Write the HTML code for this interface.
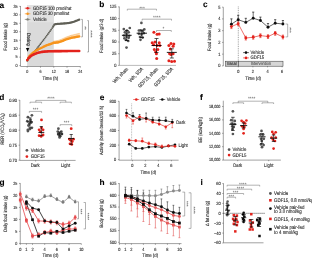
<!DOCTYPE html>
<html><head><meta charset="utf-8"><style>
html,body{margin:0;padding:0;background:#fff;width:312px;height:258px;overflow:hidden}
svg{display:block}
text{font-family:"Liberation Sans", sans-serif;text-rendering:geometricPrecision}
</style></head><body>
<svg xmlns="http://www.w3.org/2000/svg" width="312" height="258" viewBox="0 0 312 258">
<defs><filter id="bl" x="0" y="0" width="312" height="258" filterUnits="userSpaceOnUse"><feGaussianBlur stdDeviation="0.4"/></filter></defs>
<g filter="url(#bl)">
<rect width="312" height="258" fill="#fff"/>
<text font-size="8.3" text-anchor="start" font-weight="bold" fill="#000" stroke="#000" stroke-width="0.1" transform="translate(-0.60 7.60)">a</text>
<rect x="27.1" y="5.0" width="26.699999999999996" height="61.3" fill="#dadada" stroke="none" stroke-width="0.5"/>
<rect x="27.1" y="5.0" width="26.699999999999996" height="17.3" fill="#e2e2e2" stroke="none" stroke-width="0.5"/>
<line x1="20.5" y1="6.0" x2="20.5" y2="66.3" stroke="#444" stroke-width="0.5"/>
<line x1="19.3" y1="65.6" x2="20.5" y2="65.6" stroke="#444" stroke-width="0.5"/>
<text font-size="3.7" text-anchor="end" font-weight="normal" fill="#2a2a2a" stroke="#2a2a2a" stroke-width="0.1" transform="translate(17.60 66.93) scale(1 1.2)">0</text>
<line x1="19.3" y1="57.13999999999999" x2="20.5" y2="57.13999999999999" stroke="#444" stroke-width="0.5"/>
<text font-size="3.7" text-anchor="end" font-weight="normal" fill="#2a2a2a" stroke="#2a2a2a" stroke-width="0.1" transform="translate(17.60 58.47) scale(1 1.2)">5</text>
<line x1="19.3" y1="48.67999999999999" x2="20.5" y2="48.67999999999999" stroke="#444" stroke-width="0.5"/>
<text font-size="3.7" text-anchor="end" font-weight="normal" fill="#2a2a2a" stroke="#2a2a2a" stroke-width="0.1" transform="translate(17.60 50.01) scale(1 1.2)">10</text>
<line x1="19.3" y1="40.21999999999999" x2="20.5" y2="40.21999999999999" stroke="#444" stroke-width="0.5"/>
<text font-size="3.7" text-anchor="end" font-weight="normal" fill="#2a2a2a" stroke="#2a2a2a" stroke-width="0.1" transform="translate(17.60 41.55) scale(1 1.2)">15</text>
<line x1="19.3" y1="31.75999999999999" x2="20.5" y2="31.75999999999999" stroke="#444" stroke-width="0.5"/>
<text font-size="3.7" text-anchor="end" font-weight="normal" fill="#2a2a2a" stroke="#2a2a2a" stroke-width="0.1" transform="translate(17.60 33.09) scale(1 1.2)">20</text>
<line x1="19.3" y1="23.29999999999999" x2="20.5" y2="23.29999999999999" stroke="#444" stroke-width="0.5"/>
<text font-size="3.7" text-anchor="end" font-weight="normal" fill="#2a2a2a" stroke="#2a2a2a" stroke-width="0.1" transform="translate(17.60 24.63) scale(1 1.2)">25</text>
<line x1="19.3" y1="14.83999999999999" x2="20.5" y2="14.83999999999999" stroke="#444" stroke-width="0.5"/>
<text font-size="3.7" text-anchor="end" font-weight="normal" fill="#2a2a2a" stroke="#2a2a2a" stroke-width="0.1" transform="translate(17.60 16.17) scale(1 1.2)">30</text>
<line x1="19.3" y1="6.379999999999988" x2="20.5" y2="6.379999999999988" stroke="#444" stroke-width="0.5"/>
<text font-size="3.7" text-anchor="end" font-weight="normal" fill="#2a2a2a" stroke="#2a2a2a" stroke-width="0.1" transform="translate(17.60 7.71) scale(1 1.2)">35</text>
<line x1="20.5" y1="66.5" x2="80.5" y2="66.5" stroke="#444" stroke-width="0.5"/>
<line x1="27.2" y1="66.5" x2="27.2" y2="67.7" stroke="#444" stroke-width="0.5"/>
<text font-size="3.7" text-anchor="middle" font-weight="normal" fill="#2a2a2a" stroke="#2a2a2a" stroke-width="0.1" transform="translate(27.20 73.00) scale(1 1.2)">0</text>
<line x1="40.474999999999994" y1="66.5" x2="40.474999999999994" y2="67.7" stroke="#444" stroke-width="0.5"/>
<text font-size="3.7" text-anchor="middle" font-weight="normal" fill="#2a2a2a" stroke="#2a2a2a" stroke-width="0.1" transform="translate(40.47 73.00) scale(1 1.2)">6</text>
<line x1="53.75" y1="66.5" x2="53.75" y2="67.7" stroke="#444" stroke-width="0.5"/>
<text font-size="3.7" text-anchor="middle" font-weight="normal" fill="#2a2a2a" stroke="#2a2a2a" stroke-width="0.1" transform="translate(53.75 73.00) scale(1 1.2)">12</text>
<line x1="67.02499999999999" y1="66.5" x2="67.02499999999999" y2="67.7" stroke="#444" stroke-width="0.5"/>
<text font-size="3.7" text-anchor="middle" font-weight="normal" fill="#2a2a2a" stroke="#2a2a2a" stroke-width="0.1" transform="translate(67.02 73.00) scale(1 1.2)">18</text>
<line x1="80.3" y1="66.5" x2="80.3" y2="67.7" stroke="#444" stroke-width="0.5"/>
<text font-size="3.7" text-anchor="middle" font-weight="normal" fill="#2a2a2a" stroke="#2a2a2a" stroke-width="0.1" transform="translate(80.30 73.00) scale(1 1.2)">24</text>
<text font-size="4.05" text-anchor="middle" font-weight="normal" fill="#2a2a2a" stroke="#2a2a2a" stroke-width="0.1" transform="translate(7.25 36.80) rotate(-90) scale(1 1.2)">Food intake (g)</text>
<text font-size="4.3" text-anchor="middle" font-weight="normal" fill="#2a2a2a" stroke="#2a2a2a" stroke-width="0.1" transform="translate(50.35 79.50) scale(1 1.2)">Time (h)</text>
<text font-size="4.15" text-anchor="start" font-weight="normal" fill="#2a2a2a" stroke="#2a2a2a" stroke-width="0.1" transform="translate(26.70 33.00) rotate(90) scale(1 1.2)">Dosing</text>
<polygon points="25.9,48.0 29.3,48.0 27.6,51.7" fill="#000"/>
<line x1="53.25" y1="41.41292735042735" x2="53.25" y2="43.02638888888889" stroke="#f7941d" stroke-width="0.4"/>
<line x1="52.8" y1="41.41292735042735" x2="53.7" y2="41.41292735042735" stroke="#f7941d" stroke-width="0.45"/>
<line x1="54.331250000000004" y1="41.145220716783214" x2="54.331250000000004" y2="42.816903409090905" stroke="#f7941d" stroke-width="0.4"/>
<line x1="53.88125" y1="41.145220716783214" x2="54.78125000000001" y2="41.145220716783214" stroke="#f7941d" stroke-width="0.45"/>
<line x1="55.4125" y1="40.964130244755246" x2="55.4125" y2="42.69403409090909" stroke="#f7941d" stroke-width="0.4"/>
<line x1="54.9625" y1="40.964130244755246" x2="55.862500000000004" y2="40.964130244755246" stroke="#f7941d" stroke-width="0.45"/>
<line x1="56.493750000000006" y1="40.78303977272727" x2="56.493750000000006" y2="42.57116477272727" stroke="#f7941d" stroke-width="0.4"/>
<line x1="56.04375" y1="40.78303977272727" x2="56.94375000000001" y2="40.78303977272727" stroke="#f7941d" stroke-width="0.45"/>
<line x1="57.575" y1="40.601949300699296" x2="57.575" y2="42.44829545454545" stroke="#f7941d" stroke-width="0.4"/>
<line x1="57.125" y1="40.601949300699296" x2="58.025000000000006" y2="40.601949300699296" stroke="#f7941d" stroke-width="0.45"/>
<line x1="58.65625" y1="40.29491185897435" x2="58.65625" y2="42.19947916666666" stroke="#f7941d" stroke-width="0.4"/>
<line x1="58.20625" y1="40.29491185897435" x2="59.10625" y2="40.29491185897435" stroke="#f7941d" stroke-width="0.45"/>
<line x1="59.73750000000001" y1="39.90630876068376" x2="59.73750000000001" y2="41.869097222222216" stroke="#f7941d" stroke-width="0.4"/>
<line x1="59.28750000000001" y1="39.90630876068376" x2="60.187500000000014" y2="39.90630876068376" stroke="#f7941d" stroke-width="0.45"/>
<line x1="60.81875000000001" y1="39.51770566239316" x2="60.81875000000001" y2="41.538715277777776" stroke="#f7941d" stroke-width="0.4"/>
<line x1="60.368750000000006" y1="39.51770566239316" x2="61.26875000000001" y2="39.51770566239316" stroke="#f7941d" stroke-width="0.45"/>
<line x1="61.900000000000006" y1="39.09576923076923" x2="61.900000000000006" y2="41.175" stroke="#f7941d" stroke-width="0.4"/>
<line x1="61.45" y1="39.09576923076923" x2="62.35000000000001" y2="39.09576923076923" stroke="#f7941d" stroke-width="0.45"/>
<line x1="62.98125" y1="38.58702724358974" x2="62.98125" y2="40.72447916666666" stroke="#f7941d" stroke-width="0.4"/>
<line x1="62.53125" y1="38.58702724358974" x2="63.431250000000006" y2="38.58702724358974" stroke="#f7941d" stroke-width="0.45"/>
<line x1="64.0625" y1="38.078285256410254" x2="64.0625" y2="40.27395833333333" stroke="#f7941d" stroke-width="0.4"/>
<line x1="63.6125" y1="38.078285256410254" x2="64.5125" y2="38.078285256410254" stroke="#f7941d" stroke-width="0.45"/>
<line x1="65.14375000000001" y1="37.56954326923076" x2="65.14375000000001" y2="39.8234375" stroke="#f7941d" stroke-width="0.4"/>
<line x1="64.69375000000001" y1="37.56954326923076" x2="65.59375000000001" y2="37.56954326923076" stroke="#f7941d" stroke-width="0.45"/>
<line x1="66.22500000000001" y1="37.06080128205127" x2="66.22500000000001" y2="39.37291666666666" stroke="#f7941d" stroke-width="0.4"/>
<line x1="65.775" y1="37.06080128205127" x2="66.67500000000001" y2="37.06080128205127" stroke="#f7941d" stroke-width="0.45"/>
<line x1="67.30625" y1="36.665340544871796" x2="67.30625" y2="39.03567708333333" stroke="#f7941d" stroke-width="0.4"/>
<line x1="66.85625" y1="36.665340544871796" x2="67.75625000000001" y2="36.665340544871796" stroke="#f7941d" stroke-width="0.45"/>
<line x1="68.3875" y1="36.29175480769231" x2="68.3875" y2="38.7203125" stroke="#f7941d" stroke-width="0.4"/>
<line x1="67.9375" y1="36.29175480769231" x2="68.8375" y2="36.29175480769231" stroke="#f7941d" stroke-width="0.45"/>
<line x1="69.46875" y1="35.91816907051282" x2="69.46875" y2="38.404947916666664" stroke="#f7941d" stroke-width="0.4"/>
<line x1="69.01875" y1="35.91816907051282" x2="69.91875" y2="35.91816907051282" stroke="#f7941d" stroke-width="0.45"/>
<line x1="70.55" y1="35.544583333333335" x2="70.55" y2="38.08958333333334" stroke="#f7941d" stroke-width="0.4"/>
<line x1="70.1" y1="35.544583333333335" x2="71.0" y2="35.544583333333335" stroke="#f7941d" stroke-width="0.45"/>
<line x1="71.63125000000001" y1="35.217338056680155" x2="71.63125000000001" y2="37.82055921052631" stroke="#f7941d" stroke-width="0.4"/>
<line x1="71.18125" y1="35.217338056680155" x2="72.08125000000001" y2="35.217338056680155" stroke="#f7941d" stroke-width="0.45"/>
<line x1="72.7125" y1="34.95993927125507" x2="72.7125" y2="37.62138157894737" stroke="#f7941d" stroke-width="0.4"/>
<line x1="72.2625" y1="34.95993927125507" x2="73.16250000000001" y2="34.95993927125507" stroke="#f7941d" stroke-width="0.45"/>
<line x1="73.79375" y1="34.702540485829964" x2="73.79375" y2="37.42220394736842" stroke="#f7941d" stroke-width="0.4"/>
<line x1="73.34375" y1="34.702540485829964" x2="74.24375" y2="34.702540485829964" stroke="#f7941d" stroke-width="0.45"/>
<line x1="74.87500000000001" y1="34.44514170040486" x2="74.87500000000001" y2="37.223026315789475" stroke="#f7941d" stroke-width="0.4"/>
<line x1="74.42500000000001" y1="34.44514170040486" x2="75.32500000000002" y2="34.44514170040486" stroke="#f7941d" stroke-width="0.45"/>
<line x1="75.95625000000001" y1="34.181751373626376" x2="75.95625000000001" y2="37.017857142857146" stroke="#f7941d" stroke-width="0.4"/>
<line x1="75.50625000000001" y1="34.181751373626376" x2="76.40625000000001" y2="34.181751373626376" stroke="#f7941d" stroke-width="0.45"/>
<line x1="77.03750000000001" y1="33.91757783882784" x2="77.03750000000001" y2="36.81190476190476" stroke="#f7941d" stroke-width="0.4"/>
<line x1="76.5875" y1="33.91757783882784" x2="77.48750000000001" y2="33.91757783882784" stroke="#f7941d" stroke-width="0.45"/>
<line x1="78.11875" y1="33.6534043040293" x2="78.11875" y2="36.60595238095238" stroke="#f7941d" stroke-width="0.4"/>
<line x1="77.66875" y1="33.6534043040293" x2="78.56875000000001" y2="33.6534043040293" stroke="#f7941d" stroke-width="0.45"/>
<line x1="79.2" y1="33.389230769230764" x2="79.2" y2="36.4" stroke="#f7941d" stroke-width="0.4"/>
<line x1="78.75" y1="33.389230769230764" x2="79.65" y2="33.389230769230764" stroke="#f7941d" stroke-width="0.45"/>
<polyline points="27.30,61.00 30.00,57.50 35.00,51.00 40.00,44.50 45.00,38.00 50.00,31.20 53.20,26.60 54.60,24.30 58.00,23.90 64.00,23.50 68.30,23.10 71.00,22.60 74.10,21.70 79.20,19.70" fill="none" stroke="#5f5f56" stroke-width="0.35" stroke-linejoin="round"/>
<circle cx="27.30" cy="61.00" r="0.85" fill="#5f5f56"/>
<circle cx="28.38" cy="59.60" r="0.85" fill="#5f5f56"/>
<circle cx="29.46" cy="58.20" r="0.85" fill="#5f5f56"/>
<circle cx="30.54" cy="56.79" r="0.85" fill="#5f5f56"/>
<circle cx="31.62" cy="55.39" r="0.85" fill="#5f5f56"/>
<circle cx="32.71" cy="53.98" r="0.85" fill="#5f5f56"/>
<circle cx="33.79" cy="52.58" r="0.85" fill="#5f5f56"/>
<circle cx="34.87" cy="51.17" r="0.85" fill="#5f5f56"/>
<circle cx="35.95" cy="49.76" r="0.85" fill="#5f5f56"/>
<circle cx="37.03" cy="48.36" r="0.85" fill="#5f5f56"/>
<circle cx="38.11" cy="46.95" r="0.85" fill="#5f5f56"/>
<circle cx="39.19" cy="45.55" r="0.85" fill="#5f5f56"/>
<circle cx="40.28" cy="44.14" r="0.85" fill="#5f5f56"/>
<circle cx="41.36" cy="42.74" r="0.85" fill="#5f5f56"/>
<circle cx="42.44" cy="41.33" r="0.85" fill="#5f5f56"/>
<circle cx="43.52" cy="39.93" r="0.85" fill="#5f5f56"/>
<circle cx="44.60" cy="38.52" r="0.85" fill="#5f5f56"/>
<circle cx="45.68" cy="37.07" r="0.85" fill="#5f5f56"/>
<circle cx="46.76" cy="35.60" r="0.85" fill="#5f5f56"/>
<circle cx="47.84" cy="34.13" r="0.85" fill="#5f5f56"/>
<circle cx="48.92" cy="32.66" r="0.85" fill="#5f5f56"/>
<circle cx="50.01" cy="31.19" r="0.85" fill="#5f5f56"/>
<circle cx="51.09" cy="29.64" r="0.85" fill="#5f5f56"/>
<circle cx="52.17" cy="28.08" r="0.85" fill="#5f5f56"/>
<circle cx="53.25" cy="26.52" r="1.15" fill="#5f5f56"/>
<circle cx="54.33" cy="24.74" r="1.15" fill="#5f5f56"/>
<circle cx="55.41" cy="24.20" r="1.15" fill="#5f5f56"/>
<circle cx="56.49" cy="24.08" r="1.15" fill="#5f5f56"/>
<circle cx="57.58" cy="23.95" r="1.15" fill="#5f5f56"/>
<circle cx="58.66" cy="23.86" r="1.15" fill="#5f5f56"/>
<circle cx="59.74" cy="23.78" r="1.15" fill="#5f5f56"/>
<circle cx="60.82" cy="23.71" r="1.15" fill="#5f5f56"/>
<circle cx="61.90" cy="23.64" r="1.15" fill="#5f5f56"/>
<circle cx="62.98" cy="23.57" r="1.15" fill="#5f5f56"/>
<circle cx="64.06" cy="23.49" r="1.15" fill="#5f5f56"/>
<circle cx="65.14" cy="23.39" r="1.15" fill="#5f5f56"/>
<circle cx="66.23" cy="23.29" r="1.15" fill="#5f5f56"/>
<circle cx="67.31" cy="23.19" r="1.15" fill="#5f5f56"/>
<circle cx="68.39" cy="23.08" r="1.15" fill="#5f5f56"/>
<circle cx="69.47" cy="22.88" r="1.15" fill="#5f5f56"/>
<circle cx="70.55" cy="22.68" r="1.15" fill="#5f5f56"/>
<circle cx="71.63" cy="22.42" r="1.15" fill="#5f5f56"/>
<circle cx="72.71" cy="22.10" r="1.15" fill="#5f5f56"/>
<circle cx="73.79" cy="21.79" r="1.15" fill="#5f5f56"/>
<circle cx="74.88" cy="21.40" r="1.15" fill="#5f5f56"/>
<circle cx="75.96" cy="20.97" r="1.15" fill="#5f5f56"/>
<circle cx="77.04" cy="20.55" r="1.15" fill="#5f5f56"/>
<circle cx="78.12" cy="20.12" r="1.15" fill="#5f5f56"/>
<circle cx="79.20" cy="19.70" r="1.15" fill="#5f5f56"/>
<polyline points="27.30,60.00 29.00,56.50 32.50,53.00 36.30,50.40 41.00,48.00 47.00,45.20 50.00,44.20 53.60,42.90 58.00,42.40 61.60,41.30 66.40,39.30 71.20,37.90 75.00,37.20 79.20,36.40" fill="none" stroke="#f7941d" stroke-width="0.5" stroke-linejoin="round"/>
<circle cx="27.30" cy="60.00" r="1.2" fill="#f7941d"/>
<circle cx="28.38" cy="57.77" r="1.2" fill="#f7941d"/>
<circle cx="29.46" cy="56.04" r="1.2" fill="#f7941d"/>
<circle cx="30.54" cy="54.96" r="1.2" fill="#f7941d"/>
<circle cx="31.62" cy="53.88" r="1.2" fill="#f7941d"/>
<circle cx="32.71" cy="52.86" r="1.2" fill="#f7941d"/>
<circle cx="33.79" cy="52.12" r="1.2" fill="#f7941d"/>
<circle cx="34.87" cy="51.38" r="1.2" fill="#f7941d"/>
<circle cx="35.95" cy="50.64" r="1.2" fill="#f7941d"/>
<circle cx="37.03" cy="50.03" r="1.2" fill="#f7941d"/>
<circle cx="38.11" cy="49.47" r="1.2" fill="#f7941d"/>
<circle cx="39.19" cy="48.92" r="1.2" fill="#f7941d"/>
<circle cx="40.28" cy="48.37" r="1.2" fill="#f7941d"/>
<circle cx="41.36" cy="47.83" r="1.2" fill="#f7941d"/>
<circle cx="42.44" cy="47.33" r="1.2" fill="#f7941d"/>
<circle cx="43.52" cy="46.82" r="1.2" fill="#f7941d"/>
<circle cx="44.60" cy="46.32" r="1.2" fill="#f7941d"/>
<circle cx="45.68" cy="45.82" r="1.2" fill="#f7941d"/>
<circle cx="46.76" cy="45.31" r="1.2" fill="#f7941d"/>
<circle cx="47.84" cy="44.92" r="1.2" fill="#f7941d"/>
<circle cx="48.92" cy="44.56" r="1.2" fill="#f7941d"/>
<circle cx="50.01" cy="44.20" r="1.2" fill="#f7941d"/>
<circle cx="51.09" cy="43.81" r="1.2" fill="#f7941d"/>
<circle cx="52.17" cy="43.42" r="1.2" fill="#f7941d"/>
<circle cx="53.25" cy="43.03" r="1.2" fill="#f7941d"/>
<circle cx="54.33" cy="42.82" r="1.2" fill="#f7941d"/>
<circle cx="55.41" cy="42.69" r="1.2" fill="#f7941d"/>
<circle cx="56.49" cy="42.57" r="1.2" fill="#f7941d"/>
<circle cx="57.58" cy="42.45" r="1.2" fill="#f7941d"/>
<circle cx="58.66" cy="42.20" r="1.2" fill="#f7941d"/>
<circle cx="59.74" cy="41.87" r="1.2" fill="#f7941d"/>
<circle cx="60.82" cy="41.54" r="1.2" fill="#f7941d"/>
<circle cx="61.90" cy="41.17" r="1.2" fill="#f7941d"/>
<circle cx="62.98" cy="40.72" r="1.2" fill="#f7941d"/>
<circle cx="64.06" cy="40.27" r="1.2" fill="#f7941d"/>
<circle cx="65.14" cy="39.82" r="1.2" fill="#f7941d"/>
<circle cx="66.23" cy="39.37" r="1.2" fill="#f7941d"/>
<circle cx="67.31" cy="39.04" r="1.2" fill="#f7941d"/>
<circle cx="68.39" cy="38.72" r="1.2" fill="#f7941d"/>
<circle cx="69.47" cy="38.40" r="1.2" fill="#f7941d"/>
<circle cx="70.55" cy="38.09" r="1.2" fill="#f7941d"/>
<circle cx="71.63" cy="37.82" r="1.2" fill="#f7941d"/>
<circle cx="72.71" cy="37.62" r="1.2" fill="#f7941d"/>
<circle cx="73.79" cy="37.42" r="1.2" fill="#f7941d"/>
<circle cx="74.88" cy="37.22" r="1.2" fill="#f7941d"/>
<circle cx="75.96" cy="37.02" r="1.2" fill="#f7941d"/>
<circle cx="77.04" cy="36.81" r="1.2" fill="#f7941d"/>
<circle cx="78.12" cy="36.61" r="1.2" fill="#f7941d"/>
<circle cx="79.20" cy="36.40" r="1.2" fill="#f7941d"/>
<polyline points="26.80,60.90 28.50,58.00 30.50,56.20 33.30,54.60 37.00,53.10 41.00,52.10 45.00,51.60 50.00,51.20 79.20,51.00" fill="none" stroke="#e3241d" stroke-width="0.9" stroke-linejoin="round"/>
<circle cx="27.30" cy="60.05" r="1.3" fill="#e3241d"/>
<circle cx="28.38" cy="58.20" r="1.3" fill="#e3241d"/>
<circle cx="29.46" cy="57.13" r="1.3" fill="#e3241d"/>
<circle cx="30.54" cy="56.18" r="1.3" fill="#e3241d"/>
<circle cx="31.62" cy="55.56" r="1.3" fill="#e3241d"/>
<circle cx="32.71" cy="54.94" r="1.3" fill="#e3241d"/>
<circle cx="33.79" cy="54.40" r="1.3" fill="#e3241d"/>
<circle cx="34.87" cy="53.96" r="1.3" fill="#e3241d"/>
<circle cx="35.95" cy="53.53" r="1.3" fill="#e3241d"/>
<circle cx="37.03" cy="53.09" r="1.3" fill="#e3241d"/>
<circle cx="38.11" cy="52.82" r="1.3" fill="#e3241d"/>
<circle cx="39.19" cy="52.55" r="1.3" fill="#e3241d"/>
<circle cx="40.28" cy="52.28" r="1.3" fill="#e3241d"/>
<circle cx="41.36" cy="52.06" r="1.3" fill="#e3241d"/>
<circle cx="42.44" cy="51.92" r="1.3" fill="#e3241d"/>
<circle cx="43.52" cy="51.79" r="1.3" fill="#e3241d"/>
<circle cx="44.60" cy="51.65" r="1.3" fill="#e3241d"/>
<circle cx="45.68" cy="51.55" r="1.3" fill="#e3241d"/>
<circle cx="46.76" cy="51.46" r="1.3" fill="#e3241d"/>
<circle cx="47.84" cy="51.37" r="1.3" fill="#e3241d"/>
<circle cx="48.92" cy="51.29" r="1.3" fill="#e3241d"/>
<circle cx="50.01" cy="51.20" r="1.3" fill="#e3241d"/>
<circle cx="51.09" cy="51.19" r="1.3" fill="#e3241d"/>
<circle cx="52.17" cy="51.19" r="1.3" fill="#e3241d"/>
<circle cx="53.25" cy="51.18" r="1.3" fill="#e3241d"/>
<circle cx="54.33" cy="51.17" r="1.3" fill="#e3241d"/>
<circle cx="55.41" cy="51.16" r="1.3" fill="#e3241d"/>
<circle cx="56.49" cy="51.16" r="1.3" fill="#e3241d"/>
<circle cx="57.58" cy="51.15" r="1.3" fill="#e3241d"/>
<circle cx="58.66" cy="51.14" r="1.3" fill="#e3241d"/>
<circle cx="59.74" cy="51.13" r="1.3" fill="#e3241d"/>
<circle cx="60.82" cy="51.13" r="1.3" fill="#e3241d"/>
<circle cx="61.90" cy="51.12" r="1.3" fill="#e3241d"/>
<circle cx="62.98" cy="51.11" r="1.3" fill="#e3241d"/>
<circle cx="64.06" cy="51.10" r="1.3" fill="#e3241d"/>
<circle cx="65.14" cy="51.10" r="1.3" fill="#e3241d"/>
<circle cx="66.23" cy="51.09" r="1.3" fill="#e3241d"/>
<circle cx="67.31" cy="51.08" r="1.3" fill="#e3241d"/>
<circle cx="68.39" cy="51.07" r="1.3" fill="#e3241d"/>
<circle cx="69.47" cy="51.07" r="1.3" fill="#e3241d"/>
<circle cx="70.55" cy="51.06" r="1.3" fill="#e3241d"/>
<circle cx="71.63" cy="51.05" r="1.3" fill="#e3241d"/>
<circle cx="72.71" cy="51.04" r="1.3" fill="#e3241d"/>
<circle cx="73.79" cy="51.04" r="1.3" fill="#e3241d"/>
<circle cx="74.88" cy="51.03" r="1.3" fill="#e3241d"/>
<circle cx="75.96" cy="51.02" r="1.3" fill="#e3241d"/>
<circle cx="77.04" cy="51.01" r="1.3" fill="#e3241d"/>
<circle cx="78.12" cy="51.01" r="1.3" fill="#e3241d"/>
<circle cx="79.20" cy="51.00" r="1.3" fill="#e3241d"/>
<line x1="24.8" y1="8.2" x2="30.4" y2="8.2" stroke="#e3241d" stroke-width="0.7"/>
<circle cx="27.60" cy="8.20" r="1.2" fill="#e3241d"/>
<text font-size="4.25" text-anchor="start" font-weight="normal" fill="#2a2a2a" stroke="#2a2a2a" stroke-width="0.1" transform="translate(33.00 9.70) scale(1 1.2)">GDF15 100 pmol/rat</text>
<line x1="24.8" y1="13.799999999999999" x2="30.4" y2="13.799999999999999" stroke="#f7941d" stroke-width="0.7"/>
<circle cx="27.60" cy="13.80" r="1.2" fill="#f7941d"/>
<text font-size="4.25" text-anchor="start" font-weight="normal" fill="#2a2a2a" stroke="#2a2a2a" stroke-width="0.1" transform="translate(33.00 15.30) scale(1 1.2)">GDF15 30 pmol/rat</text>
<line x1="24.8" y1="19.4" x2="30.4" y2="19.4" stroke="#7d7d72" stroke-width="0.7"/>
<circle cx="27.60" cy="19.40" r="1.2" fill="#7d7d72"/>
<text font-size="4.25" text-anchor="start" font-weight="normal" fill="#2a2a2a" stroke="#2a2a2a" stroke-width="0.1" transform="translate(33.00 20.90) scale(1 1.2)">Vehicle</text>
<line x1="81.2" y1="19.4" x2="82.4" y2="19.4" stroke="#444" stroke-width="0.45"/>
<line x1="82.4" y1="19.4" x2="82.4" y2="36.9" stroke="#444" stroke-width="0.45"/>
<line x1="81.2" y1="36.9" x2="82.4" y2="36.9" stroke="#444" stroke-width="0.45"/>
<text font-size="3.4" text-anchor="middle" font-weight="normal" fill="#2a2a2a" stroke="#2a2a2a" stroke-width="0.1" transform="translate(85.30 28.15) rotate(90) scale(1 1.2)"></text>
<text font-size="4.8" text-anchor="middle" font-weight="normal" fill="#444" stroke="#444" stroke-width="0" transform="translate(82.65 28.00) rotate(90)">**</text>
<line x1="87.3" y1="20.6" x2="88.5" y2="20.6" stroke="#444" stroke-width="0.45"/>
<line x1="88.5" y1="20.6" x2="88.5" y2="52.0" stroke="#444" stroke-width="0.45"/>
<line x1="87.3" y1="52.0" x2="88.5" y2="52.0" stroke="#444" stroke-width="0.45"/>
<text font-size="3.4" text-anchor="middle" font-weight="normal" fill="#2a2a2a" stroke="#2a2a2a" stroke-width="0.1" transform="translate(91.40 36.30) rotate(90) scale(1 1.2)"></text>
<text font-size="4.8" text-anchor="middle" font-weight="normal" fill="#444" stroke="#444" stroke-width="0" transform="translate(88.85 34.00) rotate(90)">****</text>
<text font-size="8.3" text-anchor="start" font-weight="bold" fill="#000" stroke="#000" stroke-width="0.1" transform="translate(99.30 6.90)">b</text>
<line x1="119.3" y1="6.6" x2="119.3" y2="65.4" stroke="#444" stroke-width="0.5"/>
<line x1="118.1" y1="65.4" x2="119.3" y2="65.4" stroke="#444" stroke-width="0.5"/>
<text font-size="3.95" text-anchor="end" font-weight="normal" fill="#2a2a2a" stroke="#2a2a2a" stroke-width="0.1" transform="translate(116.40 66.82) scale(1 1.2)">0</text>
<line x1="118.1" y1="53.7" x2="119.3" y2="53.7" stroke="#444" stroke-width="0.5"/>
<text font-size="3.95" text-anchor="end" font-weight="normal" fill="#2a2a2a" stroke="#2a2a2a" stroke-width="0.1" transform="translate(116.40 55.12) scale(1 1.2)">25</text>
<line x1="118.1" y1="42.00000000000001" x2="119.3" y2="42.00000000000001" stroke="#444" stroke-width="0.5"/>
<text font-size="3.95" text-anchor="end" font-weight="normal" fill="#2a2a2a" stroke="#2a2a2a" stroke-width="0.1" transform="translate(116.40 43.42) scale(1 1.2)">50</text>
<line x1="118.1" y1="30.300000000000004" x2="119.3" y2="30.300000000000004" stroke="#444" stroke-width="0.5"/>
<text font-size="3.95" text-anchor="end" font-weight="normal" fill="#2a2a2a" stroke="#2a2a2a" stroke-width="0.1" transform="translate(116.40 31.72) scale(1 1.2)">75</text>
<line x1="118.1" y1="18.60000000000001" x2="119.3" y2="18.60000000000001" stroke="#444" stroke-width="0.5"/>
<text font-size="3.95" text-anchor="end" font-weight="normal" fill="#2a2a2a" stroke="#2a2a2a" stroke-width="0.1" transform="translate(116.40 20.02) scale(1 1.2)">100</text>
<line x1="118.1" y1="6.900000000000006" x2="119.3" y2="6.900000000000006" stroke="#444" stroke-width="0.5"/>
<text font-size="3.95" text-anchor="end" font-weight="normal" fill="#2a2a2a" stroke="#2a2a2a" stroke-width="0.1" transform="translate(116.40 8.32) scale(1 1.2)">125</text>
<line x1="119.3" y1="65.4" x2="176" y2="65.4" stroke="#777" stroke-width="0.5"/>
<text font-size="4.05" text-anchor="middle" font-weight="normal" fill="#2a2a2a" stroke="#2a2a2a" stroke-width="0.1" transform="translate(103.10 35.80) rotate(-90) scale(1 1.2)">Food intake (g/3 d)</text>
<circle cx="123.80" cy="29.10" r="1.35" fill="#555555"/>
<circle cx="129.80" cy="28.00" r="1.35" fill="#555555"/>
<circle cx="124.90" cy="32.30" r="1.35" fill="#555555"/>
<circle cx="128.70" cy="32.30" r="1.35" fill="#555555"/>
<circle cx="126.80" cy="30.60" r="1.35" fill="#555555"/>
<circle cx="126.50" cy="34.00" r="1.35" fill="#555555"/>
<circle cx="124.00" cy="35.50" r="1.35" fill="#555555"/>
<circle cx="129.20" cy="35.80" r="1.35" fill="#555555"/>
<circle cx="124.40" cy="38.30" r="1.35" fill="#555555"/>
<circle cx="128.70" cy="37.80" r="1.35" fill="#555555"/>
<circle cx="126.00" cy="40.00" r="1.35" fill="#555555"/>
<circle cx="128.20" cy="41.00" r="1.35" fill="#555555"/>
<circle cx="126.50" cy="36.80" r="1.35" fill="#555555"/>
<circle cx="126.50" cy="47.60" r="1.35" fill="#555555"/>
<line x1="121.89999999999999" y1="35.3" x2="131.7" y2="35.3" stroke="#000" stroke-width="0.85"/>
<line x1="126.8" y1="30.5" x2="126.8" y2="40.5" stroke="#000" stroke-width="0.65"/>
<line x1="124.8" y1="30.5" x2="128.8" y2="30.5" stroke="#000" stroke-width="0.65"/>
<line x1="124.8" y1="40.5" x2="128.8" y2="40.5" stroke="#000" stroke-width="0.65"/>
<circle cx="141.40" cy="22.90" r="1.35" fill="#555555"/>
<circle cx="138.90" cy="30.50" r="1.35" fill="#555555"/>
<circle cx="144.30" cy="29.40" r="1.35" fill="#555555"/>
<circle cx="140.50" cy="30.50" r="1.35" fill="#555555"/>
<circle cx="142.70" cy="31.00" r="1.35" fill="#555555"/>
<circle cx="138.90" cy="33.80" r="1.35" fill="#555555"/>
<circle cx="143.80" cy="33.20" r="1.35" fill="#555555"/>
<circle cx="141.50" cy="34.50" r="1.35" fill="#555555"/>
<circle cx="140.00" cy="37.00" r="1.35" fill="#555555"/>
<circle cx="142.70" cy="37.60" r="1.35" fill="#555555"/>
<circle cx="140.50" cy="39.80" r="1.35" fill="#555555"/>
<line x1="136.60000000000002" y1="33.2" x2="147.0" y2="33.2" stroke="#000" stroke-width="0.85"/>
<line x1="141.8" y1="30.0" x2="141.8" y2="37.5" stroke="#000" stroke-width="0.65"/>
<line x1="139.8" y1="30.0" x2="143.8" y2="30.0" stroke="#000" stroke-width="0.65"/>
<line x1="139.8" y1="37.5" x2="143.8" y2="37.5" stroke="#000" stroke-width="0.65"/>
<circle cx="153.90" cy="32.20" r="1.5" fill="#e3241d"/>
<circle cx="157.10" cy="34.30" r="1.5" fill="#e3241d"/>
<circle cx="159.20" cy="33.90" r="1.5" fill="#e3241d"/>
<circle cx="152.20" cy="42.70" r="1.5" fill="#e3241d"/>
<circle cx="155.00" cy="42.00" r="1.5" fill="#e3241d"/>
<circle cx="159.20" cy="42.70" r="1.5" fill="#e3241d"/>
<circle cx="153.60" cy="44.80" r="1.5" fill="#e3241d"/>
<circle cx="157.10" cy="45.50" r="1.5" fill="#e3241d"/>
<circle cx="159.80" cy="45.50" r="1.5" fill="#e3241d"/>
<circle cx="154.30" cy="49.60" r="1.5" fill="#e3241d"/>
<circle cx="157.80" cy="49.60" r="1.5" fill="#e3241d"/>
<circle cx="155.70" cy="51.70" r="1.5" fill="#e3241d"/>
<circle cx="156.40" cy="53.80" r="1.5" fill="#e3241d"/>
<circle cx="156.70" cy="58.40" r="1.5" fill="#e3241d"/>
<line x1="151.5" y1="45.5" x2="161.5" y2="45.5" stroke="#000" stroke-width="0.85"/>
<line x1="156.5" y1="38.5" x2="156.5" y2="52.5" stroke="#000" stroke-width="0.65"/>
<line x1="154.5" y1="38.5" x2="158.5" y2="38.5" stroke="#000" stroke-width="0.65"/>
<line x1="154.5" y1="52.5" x2="158.5" y2="52.5" stroke="#000" stroke-width="0.65"/>
<circle cx="171.00" cy="43.40" r="1.5" fill="#e3241d"/>
<circle cx="173.80" cy="44.10" r="1.5" fill="#e3241d"/>
<circle cx="168.90" cy="45.50" r="1.5" fill="#e3241d"/>
<circle cx="173.10" cy="46.20" r="1.5" fill="#e3241d"/>
<circle cx="170.30" cy="48.90" r="1.5" fill="#e3241d"/>
<circle cx="169.60" cy="53.80" r="1.5" fill="#e3241d"/>
<circle cx="173.10" cy="53.80" r="1.5" fill="#e3241d"/>
<circle cx="171.00" cy="54.50" r="1.5" fill="#e3241d"/>
<circle cx="168.90" cy="60.80" r="1.5" fill="#e3241d"/>
<circle cx="171.70" cy="61.50" r="1.5" fill="#e3241d"/>
<circle cx="174.50" cy="61.20" r="1.5" fill="#e3241d"/>
<line x1="166.8" y1="52.4" x2="176.8" y2="52.4" stroke="#000" stroke-width="0.85"/>
<line x1="171.8" y1="48.8" x2="171.8" y2="58.0" stroke="#000" stroke-width="0.65"/>
<line x1="169.8" y1="48.8" x2="173.8" y2="48.8" stroke="#000" stroke-width="0.65"/>
<line x1="169.8" y1="58.0" x2="173.8" y2="58.0" stroke="#000" stroke-width="0.65"/>
<line x1="127.3" y1="10.6" x2="127.3" y2="9.2" stroke="#555" stroke-width="0.45"/>
<line x1="127.3" y1="9.2" x2="156.5" y2="9.2" stroke="#555" stroke-width="0.45"/>
<line x1="156.5" y1="10.6" x2="156.5" y2="9.2" stroke="#555" stroke-width="0.45"/>
<text font-size="3.8" text-anchor="middle" font-weight="normal" fill="#2a2a2a" stroke="#2a2a2a" stroke-width="0.1" transform="translate(142.00 9.40) scale(1 1.2)"></text>
<text font-size="4.8" text-anchor="middle" font-weight="normal" fill="#444" stroke="#444" stroke-width="0" transform="translate(142.00 9.75)">***</text>
<line x1="142.1" y1="20.599999999999998" x2="142.1" y2="19.2" stroke="#555" stroke-width="0.45"/>
<line x1="142.1" y1="19.2" x2="171.5" y2="19.2" stroke="#555" stroke-width="0.45"/>
<line x1="171.5" y1="20.599999999999998" x2="171.5" y2="19.2" stroke="#555" stroke-width="0.45"/>
<text font-size="3.8" text-anchor="middle" font-weight="normal" fill="#2a2a2a" stroke="#2a2a2a" stroke-width="0.1" transform="translate(156.80 19.00) scale(1 1.2)"></text>
<text font-size="4.8" text-anchor="middle" font-weight="normal" fill="#444" stroke="#444" stroke-width="0" transform="translate(156.80 19.35)">****</text>
<line x1="156.5" y1="31.9" x2="156.5" y2="30.5" stroke="#555" stroke-width="0.45"/>
<line x1="156.5" y1="30.5" x2="171.3" y2="30.5" stroke="#555" stroke-width="0.45"/>
<line x1="171.3" y1="31.9" x2="171.3" y2="30.5" stroke="#555" stroke-width="0.45"/>
<text font-size="3.8" text-anchor="middle" font-weight="normal" fill="#2a2a2a" stroke="#2a2a2a" stroke-width="0.1" transform="translate(163.60 29.80) scale(1 1.2)"></text>
<text font-size="4.8" text-anchor="middle" font-weight="normal" fill="#444" stroke="#444" stroke-width="0" transform="translate(163.50 29.85)">*</text>
<text font-size="4.25" text-anchor="end" font-weight="normal" fill="#2a2a2a" stroke="#2a2a2a" stroke-width="0.1" transform="translate(128.60 69.40) rotate(-45) scale(1 1.2)">Veh, sham</text>
<text font-size="4.25" text-anchor="end" font-weight="normal" fill="#2a2a2a" stroke="#2a2a2a" stroke-width="0.1" transform="translate(143.60 69.40) rotate(-45) scale(1 1.2)">Veh, SDA</text>
<text font-size="4.25" text-anchor="end" font-weight="normal" fill="#2a2a2a" stroke="#2a2a2a" stroke-width="0.1" transform="translate(158.60 69.40) rotate(-45) scale(1 1.2)">GDF15, sham</text>
<text font-size="4.25" text-anchor="end" font-weight="normal" fill="#2a2a2a" stroke="#2a2a2a" stroke-width="0.1" transform="translate(173.60 69.40) rotate(-45) scale(1 1.2)">GDF15, SDA</text>
<text font-size="8.3" text-anchor="start" font-weight="bold" fill="#000" stroke="#000" stroke-width="0.1" transform="translate(202.90 7.30)">c</text>
<line x1="223.3" y1="7.2" x2="223.3" y2="66.0" stroke="#444" stroke-width="0.5"/>
<line x1="222.10000000000002" y1="65.9" x2="223.3" y2="65.9" stroke="#444" stroke-width="0.5"/>
<text font-size="3.95" text-anchor="end" font-weight="normal" fill="#2a2a2a" stroke="#2a2a2a" stroke-width="0.1" transform="translate(220.40 67.32) scale(1 1.2)">0</text>
<line x1="222.10000000000002" y1="54.150000000000006" x2="223.3" y2="54.150000000000006" stroke="#444" stroke-width="0.5"/>
<text font-size="3.95" text-anchor="end" font-weight="normal" fill="#2a2a2a" stroke="#2a2a2a" stroke-width="0.1" transform="translate(220.40 55.57) scale(1 1.2)">1</text>
<line x1="222.10000000000002" y1="42.400000000000006" x2="223.3" y2="42.400000000000006" stroke="#444" stroke-width="0.5"/>
<text font-size="3.95" text-anchor="end" font-weight="normal" fill="#2a2a2a" stroke="#2a2a2a" stroke-width="0.1" transform="translate(220.40 43.82) scale(1 1.2)">2</text>
<line x1="222.10000000000002" y1="30.650000000000006" x2="223.3" y2="30.650000000000006" stroke="#444" stroke-width="0.5"/>
<text font-size="3.95" text-anchor="end" font-weight="normal" fill="#2a2a2a" stroke="#2a2a2a" stroke-width="0.1" transform="translate(220.40 32.07) scale(1 1.2)">3</text>
<line x1="222.10000000000002" y1="18.900000000000006" x2="223.3" y2="18.900000000000006" stroke="#444" stroke-width="0.5"/>
<text font-size="3.95" text-anchor="end" font-weight="normal" fill="#2a2a2a" stroke="#2a2a2a" stroke-width="0.1" transform="translate(220.40 20.32) scale(1 1.2)">4</text>
<line x1="222.10000000000002" y1="7.150000000000006" x2="223.3" y2="7.150000000000006" stroke="#444" stroke-width="0.5"/>
<text font-size="3.95" text-anchor="end" font-weight="normal" fill="#2a2a2a" stroke="#2a2a2a" stroke-width="0.1" transform="translate(220.40 8.57) scale(1 1.2)">5</text>
<text font-size="4.05" text-anchor="middle" font-weight="normal" fill="#2a2a2a" stroke="#2a2a2a" stroke-width="0.1" transform="translate(210.70 37.30) rotate(-90) scale(1 1.2)">Food intake (g)</text>
<line x1="238.3" y1="6.5" x2="238.3" y2="66" stroke="#222" stroke-width="0.45" stroke-dasharray="0.9,0.9"/>
<polyline points="231.40,24.20 238.20,19.70 245.80,22.40 253.20,18.20 260.40,20.50 268.00,27.20 275.20,23.20 282.90,24.00" fill="none" stroke="#111111" stroke-width="0.65" stroke-linejoin="round"/>
<polyline points="231.40,26.60 238.20,23.70 245.80,38.00 253.20,37.20 260.40,35.60 268.00,36.50 275.20,33.30 282.90,36.90" fill="none" stroke="#e3241d" stroke-width="0.65" stroke-linejoin="round"/>
<line x1="231.4" y1="24.2" x2="231.4" y2="18.85" stroke="#111111" stroke-width="0.6"/>
<line x1="230.3" y1="18.85" x2="232.5" y2="18.85" stroke="#111111" stroke-width="0.65"/>
<line x1="238.2" y1="19.7" x2="238.2" y2="15.3" stroke="#111111" stroke-width="0.6"/>
<line x1="237.1" y1="15.3" x2="239.29999999999998" y2="15.3" stroke="#111111" stroke-width="0.65"/>
<line x1="245.8" y1="22.4" x2="245.8" y2="18.3" stroke="#111111" stroke-width="0.6"/>
<line x1="244.70000000000002" y1="18.3" x2="246.9" y2="18.3" stroke="#111111" stroke-width="0.65"/>
<line x1="253.2" y1="18.2" x2="253.2" y2="12.1" stroke="#111111" stroke-width="0.6"/>
<line x1="252.1" y1="12.1" x2="254.29999999999998" y2="12.1" stroke="#111111" stroke-width="0.65"/>
<line x1="260.4" y1="20.5" x2="260.4" y2="17.1" stroke="#111111" stroke-width="0.6"/>
<line x1="259.29999999999995" y1="17.1" x2="261.5" y2="17.1" stroke="#111111" stroke-width="0.65"/>
<line x1="268.0" y1="27.2" x2="268.0" y2="23.5" stroke="#111111" stroke-width="0.6"/>
<line x1="266.9" y1="23.5" x2="269.1" y2="23.5" stroke="#111111" stroke-width="0.65"/>
<line x1="275.2" y1="23.2" x2="275.2" y2="19.7" stroke="#111111" stroke-width="0.6"/>
<line x1="274.09999999999997" y1="19.7" x2="276.3" y2="19.7" stroke="#111111" stroke-width="0.65"/>
<line x1="282.9" y1="24.0" x2="282.9" y2="20.5" stroke="#111111" stroke-width="0.6"/>
<line x1="281.79999999999995" y1="20.5" x2="284.0" y2="20.5" stroke="#111111" stroke-width="0.65"/>
<line x1="231.4" y1="24.8" x2="231.4" y2="28.6" stroke="#e3241d" stroke-width="0.6"/>
<line x1="230.3" y1="28.6" x2="232.5" y2="28.6" stroke="#e3241d" stroke-width="0.6"/>
<line x1="230.3" y1="24.8" x2="232.5" y2="24.8" stroke="#e3241d" stroke-width="0.6"/>
<line x1="238.2" y1="21.9" x2="238.2" y2="25.7" stroke="#e3241d" stroke-width="0.6"/>
<line x1="237.1" y1="25.7" x2="239.29999999999998" y2="25.7" stroke="#e3241d" stroke-width="0.6"/>
<line x1="237.1" y1="21.9" x2="239.29999999999998" y2="21.9" stroke="#e3241d" stroke-width="0.6"/>
<line x1="245.8" y1="36.2" x2="245.8" y2="40.0" stroke="#e3241d" stroke-width="0.6"/>
<line x1="244.70000000000002" y1="40.0" x2="246.9" y2="40.0" stroke="#e3241d" stroke-width="0.6"/>
<line x1="244.70000000000002" y1="36.2" x2="246.9" y2="36.2" stroke="#e3241d" stroke-width="0.6"/>
<line x1="253.2" y1="35.400000000000006" x2="253.2" y2="39.2" stroke="#e3241d" stroke-width="0.6"/>
<line x1="252.1" y1="39.2" x2="254.29999999999998" y2="39.2" stroke="#e3241d" stroke-width="0.6"/>
<line x1="252.1" y1="35.400000000000006" x2="254.29999999999998" y2="35.400000000000006" stroke="#e3241d" stroke-width="0.6"/>
<line x1="260.4" y1="33.800000000000004" x2="260.4" y2="37.6" stroke="#e3241d" stroke-width="0.6"/>
<line x1="259.29999999999995" y1="37.6" x2="261.5" y2="37.6" stroke="#e3241d" stroke-width="0.6"/>
<line x1="259.29999999999995" y1="33.800000000000004" x2="261.5" y2="33.800000000000004" stroke="#e3241d" stroke-width="0.6"/>
<line x1="268.0" y1="34.7" x2="268.0" y2="38.5" stroke="#e3241d" stroke-width="0.6"/>
<line x1="266.9" y1="38.5" x2="269.1" y2="38.5" stroke="#e3241d" stroke-width="0.6"/>
<line x1="266.9" y1="34.7" x2="269.1" y2="34.7" stroke="#e3241d" stroke-width="0.6"/>
<line x1="275.2" y1="31.499999999999996" x2="275.2" y2="35.3" stroke="#e3241d" stroke-width="0.6"/>
<line x1="274.09999999999997" y1="35.3" x2="276.3" y2="35.3" stroke="#e3241d" stroke-width="0.6"/>
<line x1="274.09999999999997" y1="31.499999999999996" x2="276.3" y2="31.499999999999996" stroke="#e3241d" stroke-width="0.6"/>
<line x1="282.9" y1="35.1" x2="282.9" y2="38.9" stroke="#e3241d" stroke-width="0.6"/>
<line x1="281.79999999999995" y1="38.9" x2="284.0" y2="38.9" stroke="#e3241d" stroke-width="0.6"/>
<line x1="281.79999999999995" y1="35.1" x2="284.0" y2="35.1" stroke="#e3241d" stroke-width="0.6"/>
<circle cx="231.40" cy="24.20" r="1.45" fill="#111111"/>
<circle cx="238.20" cy="19.70" r="1.45" fill="#111111"/>
<circle cx="245.80" cy="22.40" r="1.45" fill="#111111"/>
<circle cx="253.20" cy="18.20" r="1.45" fill="#111111"/>
<circle cx="260.40" cy="20.50" r="1.45" fill="#111111"/>
<circle cx="268.00" cy="27.20" r="1.45" fill="#111111"/>
<circle cx="275.20" cy="23.20" r="1.45" fill="#111111"/>
<circle cx="282.90" cy="24.00" r="1.45" fill="#111111"/>
<circle cx="231.40" cy="26.60" r="1.45" fill="#e3241d"/>
<circle cx="238.20" cy="23.70" r="1.45" fill="#e3241d"/>
<circle cx="245.80" cy="38.00" r="1.45" fill="#e3241d"/>
<circle cx="253.20" cy="37.20" r="1.45" fill="#e3241d"/>
<circle cx="260.40" cy="35.60" r="1.45" fill="#e3241d"/>
<circle cx="268.00" cy="36.50" r="1.45" fill="#e3241d"/>
<circle cx="275.20" cy="33.30" r="1.45" fill="#e3241d"/>
<circle cx="282.90" cy="36.90" r="1.45" fill="#e3241d"/>
<line x1="285.6" y1="24.0" x2="287.7" y2="24.0" stroke="#555" stroke-width="0.45"/>
<line x1="287.7" y1="24.0" x2="287.7" y2="36.9" stroke="#555" stroke-width="0.45"/>
<line x1="285.6" y1="36.9" x2="287.7" y2="36.9" stroke="#555" stroke-width="0.45"/>
<text font-size="4.8" text-anchor="middle" font-weight="normal" fill="#444" stroke="#444" stroke-width="0" transform="translate(287.55 30.00) rotate(90)">***</text>
<line x1="243.0" y1="52.6" x2="249.0" y2="52.6" stroke="#111111" stroke-width="0.6"/>
<circle cx="246.00" cy="52.60" r="1.3" fill="#111111"/>
<text font-size="4.25" text-anchor="start" font-weight="normal" fill="#2a2a2a" stroke="#2a2a2a" stroke-width="0.1" transform="translate(250.50 54.10) scale(1 1.2)">Vehicle</text>
<line x1="243.0" y1="57.9" x2="249.0" y2="57.9" stroke="#e3241d" stroke-width="0.6"/>
<circle cx="246.00" cy="57.90" r="1.3" fill="#e3241d"/>
<text font-size="4.25" text-anchor="start" font-weight="normal" fill="#2a2a2a" stroke="#2a2a2a" stroke-width="0.1" transform="translate(250.50 59.40) scale(1 1.2)">GDF15</text>
<rect x="225.5" y="61.2" width="12.800000000000011" height="5.0" fill="#c4c4c4" stroke="#333" stroke-width="0.5"/>
<rect x="238.3" y="61.2" width="44.69999999999999" height="5.0" fill="#d6d6d6" stroke="#333" stroke-width="0.5"/>
<text font-size="3.7" text-anchor="middle" font-weight="normal" fill="#333" stroke="#333" stroke-width="0.1" transform="translate(231.90 65.00) scale(1 1.2)">Basal</text>
<text font-size="3.9" text-anchor="middle" font-weight="normal" fill="#555" stroke="#555" stroke-width="0.1" transform="translate(260.90 65.00) scale(1 1.2)">Intervention</text>
<line x1="238.3" y1="66.2" x2="238.3" y2="67.3" stroke="#444" stroke-width="0.5"/>
<text font-size="3.9" text-anchor="middle" font-weight="normal" fill="#2a2a2a" stroke="#2a2a2a" stroke-width="0.1" transform="translate(238.30 72.80) scale(1 1.2)">0</text>
<line x1="252.9" y1="66.2" x2="252.9" y2="67.3" stroke="#444" stroke-width="0.5"/>
<text font-size="3.9" text-anchor="middle" font-weight="normal" fill="#2a2a2a" stroke="#2a2a2a" stroke-width="0.1" transform="translate(252.90 72.80) scale(1 1.2)">2</text>
<line x1="267.5" y1="66.2" x2="267.5" y2="67.3" stroke="#444" stroke-width="0.5"/>
<text font-size="3.9" text-anchor="middle" font-weight="normal" fill="#2a2a2a" stroke="#2a2a2a" stroke-width="0.1" transform="translate(267.50 72.80) scale(1 1.2)">4</text>
<line x1="282.1" y1="66.2" x2="282.1" y2="67.3" stroke="#444" stroke-width="0.5"/>
<text font-size="3.9" text-anchor="middle" font-weight="normal" fill="#2a2a2a" stroke="#2a2a2a" stroke-width="0.1" transform="translate(282.10 72.80) scale(1 1.2)">6</text>
<text font-size="4.3" text-anchor="middle" font-weight="normal" fill="#2a2a2a" stroke="#2a2a2a" stroke-width="0.1" transform="translate(253.10 79.90) scale(1 1.2)">Time (d)</text>
<text font-size="8.3" text-anchor="start" font-weight="bold" fill="#000" stroke="#000" stroke-width="0.1" transform="translate(-0.70 99.60)">d</text>
<line x1="19.8" y1="100.0" x2="19.8" y2="160.4" stroke="#444" stroke-width="0.5"/>
<line x1="18.6" y1="160.2" x2="19.8" y2="160.2" stroke="#444" stroke-width="0.5"/>
<text font-size="3.95" text-anchor="end" font-weight="normal" fill="#2a2a2a" stroke="#2a2a2a" stroke-width="0.1" transform="translate(16.90 161.62) scale(1 1.2)">0.70</text>
<line x1="18.6" y1="145.2" x2="19.8" y2="145.2" stroke="#444" stroke-width="0.5"/>
<text font-size="3.95" text-anchor="end" font-weight="normal" fill="#2a2a2a" stroke="#2a2a2a" stroke-width="0.1" transform="translate(16.90 146.62) scale(1 1.2)">0.75</text>
<line x1="18.6" y1="130.19999999999996" x2="19.8" y2="130.19999999999996" stroke="#444" stroke-width="0.5"/>
<text font-size="3.95" text-anchor="end" font-weight="normal" fill="#2a2a2a" stroke="#2a2a2a" stroke-width="0.1" transform="translate(16.90 131.62) scale(1 1.2)">0.80</text>
<line x1="18.6" y1="115.19999999999999" x2="19.8" y2="115.19999999999999" stroke="#444" stroke-width="0.5"/>
<text font-size="3.95" text-anchor="end" font-weight="normal" fill="#2a2a2a" stroke="#2a2a2a" stroke-width="0.1" transform="translate(16.90 116.62) scale(1 1.2)">0.85</text>
<line x1="18.6" y1="100.19999999999996" x2="19.8" y2="100.19999999999996" stroke="#444" stroke-width="0.5"/>
<text font-size="3.95" text-anchor="end" font-weight="normal" fill="#2a2a2a" stroke="#2a2a2a" stroke-width="0.1" transform="translate(16.90 101.62) scale(1 1.2)">0.90</text>
<line x1="19.8" y1="160.4" x2="75.6" y2="160.4" stroke="#444" stroke-width="0.5"/>
<text font-size="4.05" text-anchor="middle" font-weight="normal" fill="#2a2a2a" stroke="#2a2a2a" stroke-width="0.1" transform="translate(3.60 128.90) rotate(-90) scale(1 1.2)">RER (VCO<tspan font-size="2.7" dy="0.8">2</tspan><tspan dy="-0.8">/VO</tspan><tspan font-size="2.7" dy="0.8">2</tspan><tspan dy="-0.8">)</tspan></text>
<circle cx="31.90" cy="115.30" r="1.4" fill="#555555"/>
<circle cx="27.90" cy="117.20" r="1.4" fill="#555555"/>
<circle cx="30.60" cy="119.90" r="1.4" fill="#555555"/>
<circle cx="27.30" cy="121.20" r="1.4" fill="#555555"/>
<circle cx="31.20" cy="122.50" r="1.4" fill="#555555"/>
<circle cx="29.30" cy="123.80" r="1.4" fill="#555555"/>
<circle cx="28.50" cy="125.50" r="1.4" fill="#555555"/>
<circle cx="31.90" cy="127.80" r="1.4" fill="#555555"/>
<circle cx="27.90" cy="129.80" r="1.4" fill="#555555"/>
<circle cx="29.90" cy="129.10" r="1.4" fill="#555555"/>
<circle cx="27.90" cy="131.10" r="1.4" fill="#555555"/>
<line x1="27.0" y1="121.9" x2="33.0" y2="121.9" stroke="#000" stroke-width="0.85"/>
<line x1="30.0" y1="117.9" x2="30.0" y2="127.8" stroke="#000" stroke-width="0.65"/>
<line x1="28.4" y1="117.9" x2="31.6" y2="117.9" stroke="#000" stroke-width="0.65"/>
<line x1="28.4" y1="127.8" x2="31.6" y2="127.8" stroke="#000" stroke-width="0.65"/>
<circle cx="41.50" cy="119.90" r="1.4" fill="#e3241d"/>
<circle cx="41.50" cy="127.80" r="1.4" fill="#e3241d"/>
<circle cx="39.10" cy="129.80" r="1.4" fill="#e3241d"/>
<circle cx="43.10" cy="129.80" r="1.4" fill="#e3241d"/>
<circle cx="40.50" cy="131.70" r="1.4" fill="#e3241d"/>
<circle cx="39.10" cy="135.70" r="1.4" fill="#e3241d"/>
<circle cx="43.10" cy="135.00" r="1.4" fill="#e3241d"/>
<circle cx="41.10" cy="136.40" r="1.4" fill="#e3241d"/>
<line x1="38.3" y1="132.4" x2="44.3" y2="132.4" stroke="#000" stroke-width="0.85"/>
<line x1="41.3" y1="126.5" x2="41.3" y2="135.7" stroke="#000" stroke-width="0.65"/>
<line x1="39.699999999999996" y1="126.5" x2="42.9" y2="126.5" stroke="#000" stroke-width="0.65"/>
<line x1="39.699999999999996" y1="135.7" x2="42.9" y2="135.7" stroke="#000" stroke-width="0.65"/>
<circle cx="58.40" cy="128.70" r="1.4" fill="#555555"/>
<circle cx="57.80" cy="131.60" r="1.4" fill="#555555"/>
<circle cx="61.30" cy="131.60" r="1.4" fill="#555555"/>
<circle cx="59.00" cy="133.40" r="1.4" fill="#555555"/>
<circle cx="61.90" cy="134.00" r="1.4" fill="#555555"/>
<circle cx="58.40" cy="134.50" r="1.4" fill="#555555"/>
<circle cx="60.10" cy="136.30" r="1.4" fill="#555555"/>
<circle cx="59.60" cy="137.40" r="1.4" fill="#555555"/>
<line x1="56.9" y1="134.0" x2="62.9" y2="134.0" stroke="#000" stroke-width="0.85"/>
<line x1="59.9" y1="132.0" x2="59.9" y2="136.0" stroke="#000" stroke-width="0.65"/>
<line x1="58.3" y1="132.0" x2="61.5" y2="132.0" stroke="#000" stroke-width="0.65"/>
<line x1="58.3" y1="136.0" x2="61.5" y2="136.0" stroke="#000" stroke-width="0.65"/>
<circle cx="71.20" cy="128.70" r="1.4" fill="#e3241d"/>
<circle cx="69.40" cy="139.20" r="1.4" fill="#e3241d"/>
<circle cx="73.50" cy="139.20" r="1.4" fill="#e3241d"/>
<circle cx="70.60" cy="140.30" r="1.4" fill="#e3241d"/>
<circle cx="72.30" cy="141.50" r="1.4" fill="#e3241d"/>
<circle cx="70.00" cy="143.80" r="1.4" fill="#e3241d"/>
<circle cx="71.80" cy="144.40" r="1.4" fill="#e3241d"/>
<line x1="68.2" y1="138.6" x2="74.2" y2="138.6" stroke="#000" stroke-width="0.85"/>
<line x1="71.2" y1="134.5" x2="71.2" y2="144.4" stroke="#000" stroke-width="0.65"/>
<line x1="69.60000000000001" y1="134.5" x2="72.8" y2="134.5" stroke="#000" stroke-width="0.65"/>
<line x1="69.60000000000001" y1="144.4" x2="72.8" y2="144.4" stroke="#000" stroke-width="0.65"/>
<line x1="29.3" y1="112.80000000000001" x2="29.3" y2="111.4" stroke="#555" stroke-width="0.45"/>
<line x1="29.3" y1="111.4" x2="41.6" y2="111.4" stroke="#555" stroke-width="0.45"/>
<line x1="41.6" y1="112.80000000000001" x2="41.6" y2="111.4" stroke="#555" stroke-width="0.45"/>
<text font-size="3.8" text-anchor="middle" font-weight="normal" fill="#2a2a2a" stroke="#2a2a2a" stroke-width="0.1" transform="translate(35.50 110.40) scale(1 1.2)"></text>
<text font-size="4.8" text-anchor="middle" font-weight="normal" fill="#444" stroke="#444" stroke-width="0" transform="translate(35.50 111.25)">***</text>
<line x1="60.1" y1="126.05000000000001" x2="60.1" y2="124.65" stroke="#555" stroke-width="0.45"/>
<line x1="60.1" y1="124.65" x2="71.8" y2="124.65" stroke="#555" stroke-width="0.45"/>
<line x1="71.8" y1="126.05000000000001" x2="71.8" y2="124.65" stroke="#555" stroke-width="0.45"/>
<text font-size="3.8" text-anchor="middle" font-weight="normal" fill="#2a2a2a" stroke="#2a2a2a" stroke-width="0.1" transform="translate(65.80 123.80) scale(1 1.2)"></text>
<text font-size="4.8" text-anchor="middle" font-weight="normal" fill="#444" stroke="#444" stroke-width="0" transform="translate(66.50 124.15)">***</text>
<line x1="30.0" y1="102.2" x2="41.6" y2="102.2" stroke="#555" stroke-width="0.45"/>
<line x1="30.0" y1="102.2" x2="30.0" y2="103.4" stroke="#555" stroke-width="0.45"/>
<line x1="41.6" y1="102.2" x2="41.6" y2="103.4" stroke="#555" stroke-width="0.45"/>
<line x1="60.1" y1="102.2" x2="71.4" y2="102.2" stroke="#555" stroke-width="0.45"/>
<line x1="60.1" y1="102.2" x2="60.1" y2="103.4" stroke="#555" stroke-width="0.45"/>
<line x1="71.4" y1="102.2" x2="71.4" y2="103.4" stroke="#555" stroke-width="0.45"/>
<line x1="35.8" y1="100.4" x2="65.8" y2="100.4" stroke="#555" stroke-width="0.45"/>
<line x1="35.8" y1="100.4" x2="35.8" y2="102.2" stroke="#555" stroke-width="0.45"/>
<line x1="65.8" y1="100.4" x2="65.8" y2="102.2" stroke="#555" stroke-width="0.45"/>
<text font-size="4.8" text-anchor="middle" font-weight="normal" fill="#444" stroke="#444" stroke-width="0" transform="translate(50.90 100.15)">****</text>
<circle cx="26.90" cy="150.30" r="1.35" fill="#555555"/>
<text font-size="4.3" text-anchor="start" font-weight="normal" fill="#2a2a2a" stroke="#2a2a2a" stroke-width="0.1" transform="translate(30.85 151.80) scale(1 1.2)">Vehicle</text>
<circle cx="26.90" cy="156.60" r="1.35" fill="#e3241d"/>
<text font-size="4.3" text-anchor="start" font-weight="normal" fill="#2a2a2a" stroke="#2a2a2a" stroke-width="0.1" transform="translate(30.85 158.10) scale(1 1.2)">GDF15</text>
<line x1="35.6" y1="160.4" x2="35.6" y2="161.5" stroke="#444" stroke-width="0.5"/>
<line x1="65.3" y1="160.4" x2="65.3" y2="161.5" stroke="#444" stroke-width="0.5"/>
<text font-size="4.25" text-anchor="middle" font-weight="normal" fill="#2a2a2a" stroke="#2a2a2a" stroke-width="0.1" transform="translate(35.20 166.70) scale(1 1.2)">Dark</text>
<text font-size="4.25" text-anchor="middle" font-weight="normal" fill="#2a2a2a" stroke="#2a2a2a" stroke-width="0.1" transform="translate(65.50 166.70) scale(1 1.2)">Light</text>
<text font-size="8.3" text-anchor="start" font-weight="bold" fill="#000" stroke="#000" stroke-width="0.1" transform="translate(99.80 100.10)">e</text>
<line x1="119.1" y1="101.2" x2="119.1" y2="160.2" stroke="#444" stroke-width="0.5"/>
<line x1="117.89999999999999" y1="159.7" x2="119.1" y2="159.7" stroke="#444" stroke-width="0.5"/>
<text font-size="3.95" text-anchor="end" font-weight="normal" fill="#2a2a2a" stroke="#2a2a2a" stroke-width="0.1" transform="translate(116.20 161.12) scale(1 1.2)">0</text>
<line x1="117.89999999999999" y1="145.1" x2="119.1" y2="145.1" stroke="#444" stroke-width="0.5"/>
<text font-size="3.95" text-anchor="end" font-weight="normal" fill="#2a2a2a" stroke="#2a2a2a" stroke-width="0.1" transform="translate(116.20 146.52) scale(1 1.2)">200</text>
<line x1="117.89999999999999" y1="130.5" x2="119.1" y2="130.5" stroke="#444" stroke-width="0.5"/>
<text font-size="3.95" text-anchor="end" font-weight="normal" fill="#2a2a2a" stroke="#2a2a2a" stroke-width="0.1" transform="translate(116.20 131.92) scale(1 1.2)">400</text>
<line x1="117.89999999999999" y1="115.89999999999999" x2="119.1" y2="115.89999999999999" stroke="#444" stroke-width="0.5"/>
<text font-size="3.95" text-anchor="end" font-weight="normal" fill="#2a2a2a" stroke="#2a2a2a" stroke-width="0.1" transform="translate(116.20 117.32) scale(1 1.2)">600</text>
<line x1="117.89999999999999" y1="101.29999999999998" x2="119.1" y2="101.29999999999998" stroke="#444" stroke-width="0.5"/>
<text font-size="3.95" text-anchor="end" font-weight="normal" fill="#2a2a2a" stroke="#2a2a2a" stroke-width="0.1" transform="translate(116.20 102.72) scale(1 1.2)">800</text>
<text font-size="4.05" text-anchor="middle" font-weight="normal" fill="#2a2a2a" stroke="#2a2a2a" stroke-width="0.1" transform="translate(102.85 130.50) rotate(-90) scale(1 1.2)">Activity (beam breaks/12 h)</text>
<line x1="119.1" y1="160.2" x2="178.6" y2="160.2" stroke="#444" stroke-width="0.5"/>
<line x1="131.6" y1="103.5" x2="131.6" y2="160" stroke="#444" stroke-width="0.4" stroke-dasharray="0.8,0.8"/>
<polyline points="126.50,113.00 133.04,116.20 139.58,119.40 146.12,118.40 152.66,120.00 159.20,120.30 165.74,120.70 172.28,122.00" fill="none" stroke="#111111" stroke-width="0.65" stroke-linejoin="round"/>
<polyline points="126.50,115.50 133.04,120.70 139.58,116.80 146.12,118.70 152.66,122.00 159.20,123.90 165.74,126.80 172.28,122.60" fill="none" stroke="#e3241d" stroke-width="0.65" stroke-linejoin="round"/>
<polyline points="129.20,144.20 135.74,148.40 142.28,148.40 148.82,147.10 155.36,146.60 161.90,147.50 168.44,146.00 174.98,144.80" fill="none" stroke="#111111" stroke-width="0.65" stroke-linejoin="round"/>
<polyline points="129.20,140.40 135.74,140.80 142.28,141.20 148.82,143.60 155.36,144.60 161.90,146.60 168.44,146.00 174.98,146.30" fill="none" stroke="#e3241d" stroke-width="0.65" stroke-linejoin="round"/>
<line x1="126.5" y1="113.0" x2="126.5" y2="109.4" stroke="#111111" stroke-width="0.45"/>
<line x1="125.6" y1="109.4" x2="127.4" y2="109.4" stroke="#111111" stroke-width="0.5"/>
<line x1="133.04" y1="116.2" x2="133.04" y2="112.7" stroke="#111111" stroke-width="0.45"/>
<line x1="132.14" y1="112.7" x2="133.94" y2="112.7" stroke="#111111" stroke-width="0.5"/>
<line x1="139.58" y1="119.4" x2="139.58" y2="114.5" stroke="#111111" stroke-width="0.45"/>
<line x1="138.68" y1="114.5" x2="140.48000000000002" y2="114.5" stroke="#111111" stroke-width="0.5"/>
<line x1="146.12" y1="118.4" x2="146.12" y2="113.0" stroke="#111111" stroke-width="0.45"/>
<line x1="145.22" y1="113.0" x2="147.02" y2="113.0" stroke="#111111" stroke-width="0.5"/>
<line x1="152.66" y1="120.0" x2="152.66" y2="117.2" stroke="#111111" stroke-width="0.45"/>
<line x1="151.76" y1="117.2" x2="153.56" y2="117.2" stroke="#111111" stroke-width="0.5"/>
<line x1="159.2" y1="120.3" x2="159.2" y2="117.2" stroke="#111111" stroke-width="0.45"/>
<line x1="158.29999999999998" y1="117.2" x2="160.1" y2="117.2" stroke="#111111" stroke-width="0.5"/>
<line x1="165.74" y1="120.7" x2="165.74" y2="117.2" stroke="#111111" stroke-width="0.45"/>
<line x1="164.84" y1="117.2" x2="166.64000000000001" y2="117.2" stroke="#111111" stroke-width="0.5"/>
<line x1="172.28" y1="122.0" x2="172.28" y2="119.4" stroke="#111111" stroke-width="0.45"/>
<line x1="171.38" y1="119.4" x2="173.18" y2="119.4" stroke="#111111" stroke-width="0.5"/>
<line x1="126.5" y1="115.5" x2="126.5" y2="118.0" stroke="#e3241d" stroke-width="0.45"/>
<line x1="125.6" y1="118.0" x2="127.4" y2="118.0" stroke="#e3241d" stroke-width="0.5"/>
<line x1="133.04" y1="120.7" x2="133.04" y2="124.0" stroke="#e3241d" stroke-width="0.45"/>
<line x1="132.14" y1="124.0" x2="133.94" y2="124.0" stroke="#e3241d" stroke-width="0.5"/>
<line x1="139.58" y1="116.8" x2="139.58" y2="120.0" stroke="#e3241d" stroke-width="0.45"/>
<line x1="138.68" y1="120.0" x2="140.48000000000002" y2="120.0" stroke="#e3241d" stroke-width="0.5"/>
<line x1="146.12" y1="118.7" x2="146.12" y2="122.0" stroke="#e3241d" stroke-width="0.45"/>
<line x1="145.22" y1="122.0" x2="147.02" y2="122.0" stroke="#e3241d" stroke-width="0.5"/>
<line x1="152.66" y1="122.0" x2="152.66" y2="123.2" stroke="#e3241d" stroke-width="0.45"/>
<line x1="151.76" y1="123.2" x2="153.56" y2="123.2" stroke="#e3241d" stroke-width="0.5"/>
<line x1="159.2" y1="123.9" x2="159.2" y2="125.2" stroke="#e3241d" stroke-width="0.45"/>
<line x1="158.29999999999998" y1="125.2" x2="160.1" y2="125.2" stroke="#e3241d" stroke-width="0.5"/>
<line x1="165.74" y1="126.8" x2="165.74" y2="129.0" stroke="#e3241d" stroke-width="0.45"/>
<line x1="164.84" y1="129.0" x2="166.64000000000001" y2="129.0" stroke="#e3241d" stroke-width="0.5"/>
<line x1="172.28" y1="122.6" x2="172.28" y2="127.7" stroke="#e3241d" stroke-width="0.45"/>
<line x1="171.38" y1="127.7" x2="173.18" y2="127.7" stroke="#e3241d" stroke-width="0.5"/>
<line x1="129.2" y1="140.4" x2="129.2" y2="139.0" stroke="#e3241d" stroke-width="0.45"/>
<line x1="128.29999999999998" y1="139.0" x2="130.1" y2="139.0" stroke="#e3241d" stroke-width="0.5"/>
<line x1="135.73999999999998" y1="140.8" x2="135.73999999999998" y2="139.5" stroke="#e3241d" stroke-width="0.45"/>
<line x1="134.83999999999997" y1="139.5" x2="136.64" y2="139.5" stroke="#e3241d" stroke-width="0.5"/>
<line x1="142.28" y1="141.2" x2="142.28" y2="138.0" stroke="#e3241d" stroke-width="0.45"/>
<line x1="141.38" y1="138.0" x2="143.18" y2="138.0" stroke="#e3241d" stroke-width="0.5"/>
<line x1="148.82" y1="143.6" x2="148.82" y2="142.0" stroke="#e3241d" stroke-width="0.45"/>
<line x1="147.92" y1="142.0" x2="149.72" y2="142.0" stroke="#e3241d" stroke-width="0.5"/>
<line x1="155.35999999999999" y1="144.6" x2="155.35999999999999" y2="143.0" stroke="#e3241d" stroke-width="0.45"/>
<line x1="154.45999999999998" y1="143.0" x2="156.26" y2="143.0" stroke="#e3241d" stroke-width="0.5"/>
<line x1="161.89999999999998" y1="146.6" x2="161.89999999999998" y2="145.0" stroke="#e3241d" stroke-width="0.45"/>
<line x1="160.99999999999997" y1="145.0" x2="162.79999999999998" y2="145.0" stroke="#e3241d" stroke-width="0.5"/>
<line x1="168.44" y1="146.0" x2="168.44" y2="144.5" stroke="#e3241d" stroke-width="0.45"/>
<line x1="167.54" y1="144.5" x2="169.34" y2="144.5" stroke="#e3241d" stroke-width="0.5"/>
<line x1="174.98" y1="146.3" x2="174.98" y2="145.0" stroke="#e3241d" stroke-width="0.45"/>
<line x1="174.07999999999998" y1="145.0" x2="175.88" y2="145.0" stroke="#e3241d" stroke-width="0.5"/>
<circle cx="126.50" cy="115.50" r="1.35" fill="#e3241d"/>
<circle cx="133.04" cy="120.70" r="1.35" fill="#e3241d"/>
<circle cx="139.58" cy="116.80" r="1.35" fill="#e3241d"/>
<circle cx="146.12" cy="118.70" r="1.35" fill="#e3241d"/>
<circle cx="152.66" cy="122.00" r="1.35" fill="#e3241d"/>
<circle cx="159.20" cy="123.90" r="1.35" fill="#e3241d"/>
<circle cx="165.74" cy="126.80" r="1.35" fill="#e3241d"/>
<circle cx="172.28" cy="122.60" r="1.35" fill="#e3241d"/>
<circle cx="126.50" cy="113.00" r="1.35" fill="#111111"/>
<circle cx="133.04" cy="116.20" r="1.35" fill="#111111"/>
<circle cx="139.58" cy="119.40" r="1.35" fill="#111111"/>
<circle cx="146.12" cy="118.40" r="1.35" fill="#111111"/>
<circle cx="152.66" cy="120.00" r="1.35" fill="#111111"/>
<circle cx="159.20" cy="120.30" r="1.35" fill="#111111"/>
<circle cx="165.74" cy="120.70" r="1.35" fill="#111111"/>
<circle cx="172.28" cy="122.00" r="1.35" fill="#111111"/>
<circle cx="129.20" cy="144.20" r="1.35" fill="#111111"/>
<circle cx="135.74" cy="148.40" r="1.35" fill="#111111"/>
<circle cx="142.28" cy="148.40" r="1.35" fill="#111111"/>
<circle cx="148.82" cy="147.10" r="1.35" fill="#111111"/>
<circle cx="155.36" cy="146.60" r="1.35" fill="#111111"/>
<circle cx="161.90" cy="147.50" r="1.35" fill="#111111"/>
<circle cx="168.44" cy="146.00" r="1.35" fill="#111111"/>
<circle cx="174.98" cy="144.80" r="1.35" fill="#111111"/>
<circle cx="129.20" cy="140.40" r="1.35" fill="#e3241d"/>
<circle cx="135.74" cy="140.80" r="1.35" fill="#e3241d"/>
<circle cx="142.28" cy="141.20" r="1.35" fill="#e3241d"/>
<circle cx="148.82" cy="143.60" r="1.35" fill="#e3241d"/>
<circle cx="155.36" cy="144.60" r="1.35" fill="#e3241d"/>
<circle cx="161.90" cy="146.60" r="1.35" fill="#e3241d"/>
<circle cx="168.44" cy="146.00" r="1.35" fill="#e3241d"/>
<circle cx="174.98" cy="146.30" r="1.35" fill="#e3241d"/>
<text font-size="4.25" text-anchor="start" font-weight="normal" fill="#2a2a2a" stroke="#2a2a2a" stroke-width="0.1" transform="translate(176.30 124.40) scale(1 1.2)">Dark</text>
<text font-size="4.25" text-anchor="start" font-weight="normal" fill="#2a2a2a" stroke="#2a2a2a" stroke-width="0.1" transform="translate(178.50 147.00) scale(1 1.2)">Light</text>
<line x1="132.4" y1="160.2" x2="132.4" y2="161.3" stroke="#444" stroke-width="0.5"/>
<text font-size="3.9" text-anchor="middle" font-weight="normal" fill="#2a2a2a" stroke="#2a2a2a" stroke-width="0.1" transform="translate(132.40 167.20) scale(1 1.2)">0</text>
<line x1="145.4" y1="160.2" x2="145.4" y2="161.3" stroke="#444" stroke-width="0.5"/>
<text font-size="3.9" text-anchor="middle" font-weight="normal" fill="#2a2a2a" stroke="#2a2a2a" stroke-width="0.1" transform="translate(145.40 167.20) scale(1 1.2)">2</text>
<line x1="158.4" y1="160.2" x2="158.4" y2="161.3" stroke="#444" stroke-width="0.5"/>
<text font-size="3.9" text-anchor="middle" font-weight="normal" fill="#2a2a2a" stroke="#2a2a2a" stroke-width="0.1" transform="translate(158.40 167.20) scale(1 1.2)">4</text>
<line x1="171.4" y1="160.2" x2="171.4" y2="161.3" stroke="#444" stroke-width="0.5"/>
<text font-size="3.9" text-anchor="middle" font-weight="normal" fill="#2a2a2a" stroke="#2a2a2a" stroke-width="0.1" transform="translate(171.40 167.20) scale(1 1.2)">6</text>
<text font-size="4.3" text-anchor="middle" font-weight="normal" fill="#2a2a2a" stroke="#2a2a2a" stroke-width="0.1" transform="translate(148.35 173.90) scale(1 1.2)">Time (d)</text>
<line x1="133.2" y1="99.5" x2="139.2" y2="99.5" stroke="#e3241d" stroke-width="0.6"/>
<circle cx="136.30" cy="99.50" r="1.3" fill="#e3241d"/>
<text font-size="4.25" text-anchor="start" font-weight="normal" fill="#2a2a2a" stroke="#2a2a2a" stroke-width="0.1" transform="translate(141.00 101.00) scale(1 1.2)">GDF15</text>
<line x1="159.4" y1="99.5" x2="165.2" y2="99.5" stroke="#111111" stroke-width="0.6"/>
<circle cx="162.30" cy="99.50" r="1.3" fill="#111111"/>
<text font-size="4.25" text-anchor="start" font-weight="normal" fill="#2a2a2a" stroke="#2a2a2a" stroke-width="0.1" transform="translate(166.70 101.00) scale(1 1.2)">Vehicle</text>
<text font-size="8.3" text-anchor="start" font-weight="bold" fill="#000" stroke="#000" stroke-width="0.1" transform="translate(200.10 99.90)">f</text>
<line x1="223.3" y1="100.7" x2="223.3" y2="160.1" stroke="#444" stroke-width="0.5"/>
<line x1="222.10000000000002" y1="160.1" x2="223.3" y2="160.1" stroke="#444" stroke-width="0.5"/>
<text font-size="3.75" text-anchor="end" font-weight="normal" fill="#2a2a2a" stroke="#2a2a2a" stroke-width="0.1" transform="translate(220.40 161.45) scale(1 1.2)">10,000</text>
<line x1="222.10000000000002" y1="146.7" x2="223.3" y2="146.7" stroke="#444" stroke-width="0.5"/>
<text font-size="3.75" text-anchor="end" font-weight="normal" fill="#2a2a2a" stroke="#2a2a2a" stroke-width="0.1" transform="translate(220.40 148.05) scale(1 1.2)">12,000</text>
<line x1="222.10000000000002" y1="133.29999999999998" x2="223.3" y2="133.29999999999998" stroke="#444" stroke-width="0.5"/>
<text font-size="3.75" text-anchor="end" font-weight="normal" fill="#2a2a2a" stroke="#2a2a2a" stroke-width="0.1" transform="translate(220.40 134.65) scale(1 1.2)">14,000</text>
<line x1="222.10000000000002" y1="119.89999999999999" x2="223.3" y2="119.89999999999999" stroke="#444" stroke-width="0.5"/>
<text font-size="3.75" text-anchor="end" font-weight="normal" fill="#2a2a2a" stroke="#2a2a2a" stroke-width="0.1" transform="translate(220.40 121.25) scale(1 1.2)">16,000</text>
<line x1="222.10000000000002" y1="106.5" x2="223.3" y2="106.5" stroke="#444" stroke-width="0.5"/>
<text font-size="3.75" text-anchor="end" font-weight="normal" fill="#2a2a2a" stroke="#2a2a2a" stroke-width="0.1" transform="translate(220.40 107.85) scale(1 1.2)">18,000</text>
<line x1="223.3" y1="160.1" x2="280.9" y2="160.1" stroke="#444" stroke-width="0.5"/>
<text font-size="4.05" text-anchor="middle" font-weight="normal" fill="#2a2a2a" stroke="#2a2a2a" stroke-width="0.1" transform="translate(202.00 129.85) rotate(-90) scale(1 1.2)">EE (kcal/kg/h)</text>
<circle cx="232.90" cy="111.30" r="1.35" fill="#555555"/>
<circle cx="231.20" cy="120.20" r="1.35" fill="#555555"/>
<circle cx="234.80" cy="120.90" r="1.35" fill="#555555"/>
<circle cx="231.60" cy="123.50" r="1.35" fill="#555555"/>
<circle cx="234.60" cy="124.20" r="1.35" fill="#555555"/>
<circle cx="232.20" cy="126.40" r="1.35" fill="#555555"/>
<circle cx="233.80" cy="127.10" r="1.35" fill="#555555"/>
<circle cx="232.40" cy="129.20" r="1.35" fill="#555555"/>
<circle cx="232.90" cy="134.00" r="1.35" fill="#555555"/>
<line x1="229.3" y1="124.3" x2="236.5" y2="124.3" stroke="#000" stroke-width="0.85"/>
<line x1="232.9" y1="117.3" x2="232.9" y2="130.5" stroke="#000" stroke-width="0.65"/>
<line x1="231.1" y1="117.3" x2="234.70000000000002" y2="117.3" stroke="#000" stroke-width="0.65"/>
<line x1="231.1" y1="130.5" x2="234.70000000000002" y2="130.5" stroke="#000" stroke-width="0.65"/>
<circle cx="241.60" cy="120.80" r="1.35" fill="#e3241d"/>
<circle cx="246.40" cy="120.50" r="1.35" fill="#e3241d"/>
<circle cx="243.60" cy="122.20" r="1.35" fill="#e3241d"/>
<circle cx="242.20" cy="126.30" r="1.35" fill="#e3241d"/>
<circle cx="244.30" cy="127.00" r="1.35" fill="#e3241d"/>
<circle cx="243.60" cy="128.90" r="1.35" fill="#e3241d"/>
<circle cx="243.60" cy="133.30" r="1.35" fill="#e3241d"/>
<circle cx="245.20" cy="123.50" r="1.35" fill="#e3241d"/>
<line x1="240.0" y1="125.6" x2="247.2" y2="125.6" stroke="#000" stroke-width="0.85"/>
<line x1="243.6" y1="123.0" x2="243.6" y2="128.0" stroke="#000" stroke-width="0.65"/>
<line x1="241.79999999999998" y1="123.0" x2="245.4" y2="123.0" stroke="#000" stroke-width="0.65"/>
<line x1="241.79999999999998" y1="128.0" x2="245.4" y2="128.0" stroke="#000" stroke-width="0.65"/>
<circle cx="261.50" cy="130.90" r="1.35" fill="#555555"/>
<circle cx="260.30" cy="134.60" r="1.35" fill="#555555"/>
<circle cx="263.20" cy="134.60" r="1.35" fill="#555555"/>
<circle cx="261.00" cy="138.80" r="1.35" fill="#555555"/>
<circle cx="263.80" cy="138.80" r="1.35" fill="#555555"/>
<circle cx="261.70" cy="141.00" r="1.35" fill="#555555"/>
<circle cx="261.00" cy="144.40" r="1.35" fill="#555555"/>
<circle cx="263.60" cy="145.10" r="1.35" fill="#555555"/>
<circle cx="262.00" cy="147.20" r="1.35" fill="#555555"/>
<line x1="258.4" y1="136.8" x2="265.6" y2="136.8" stroke="#000" stroke-width="0.85"/>
<line x1="262.0" y1="133.7" x2="262.0" y2="143.7" stroke="#000" stroke-width="0.65"/>
<line x1="260.2" y1="133.7" x2="263.8" y2="133.7" stroke="#000" stroke-width="0.65"/>
<line x1="260.2" y1="143.7" x2="263.8" y2="143.7" stroke="#000" stroke-width="0.65"/>
<circle cx="272.30" cy="131.90" r="1.35" fill="#e3241d"/>
<circle cx="275.70" cy="132.30" r="1.35" fill="#e3241d"/>
<circle cx="273.60" cy="134.00" r="1.35" fill="#e3241d"/>
<circle cx="271.60" cy="137.50" r="1.35" fill="#e3241d"/>
<circle cx="275.70" cy="137.50" r="1.35" fill="#e3241d"/>
<circle cx="272.90" cy="139.60" r="1.35" fill="#e3241d"/>
<circle cx="275.00" cy="141.00" r="1.35" fill="#e3241d"/>
<circle cx="273.60" cy="148.60" r="1.35" fill="#e3241d"/>
<line x1="270.0" y1="138.2" x2="277.20000000000005" y2="138.2" stroke="#000" stroke-width="0.85"/>
<line x1="273.6" y1="135.0" x2="273.6" y2="141.5" stroke="#000" stroke-width="0.65"/>
<line x1="271.8" y1="135.0" x2="275.40000000000003" y2="135.0" stroke="#000" stroke-width="0.65"/>
<line x1="271.8" y1="141.5" x2="275.40000000000003" y2="141.5" stroke="#000" stroke-width="0.65"/>
<line x1="232.9" y1="102.8" x2="243.6" y2="102.8" stroke="#555" stroke-width="0.45"/>
<line x1="232.9" y1="102.8" x2="232.9" y2="104.0" stroke="#555" stroke-width="0.45"/>
<line x1="243.6" y1="102.8" x2="243.6" y2="104.0" stroke="#555" stroke-width="0.45"/>
<line x1="262.0" y1="102.8" x2="273.6" y2="102.8" stroke="#555" stroke-width="0.45"/>
<line x1="262.0" y1="102.8" x2="262.0" y2="104.0" stroke="#555" stroke-width="0.45"/>
<line x1="273.6" y1="102.8" x2="273.6" y2="104.0" stroke="#555" stroke-width="0.45"/>
<line x1="238.2" y1="101.2" x2="267.8" y2="101.2" stroke="#555" stroke-width="0.45"/>
<line x1="238.2" y1="101.2" x2="238.2" y2="102.8" stroke="#555" stroke-width="0.45"/>
<line x1="267.8" y1="101.2" x2="267.8" y2="102.8" stroke="#555" stroke-width="0.45"/>
<text font-size="4.8" text-anchor="middle" font-weight="normal" fill="#444" stroke="#444" stroke-width="0" transform="translate(251.70 100.25)">****</text>
<circle cx="229.10" cy="149.60" r="1.35" fill="#555555"/>
<text font-size="4.3" text-anchor="start" font-weight="normal" fill="#2a2a2a" stroke="#2a2a2a" stroke-width="0.1" transform="translate(232.50 151.10) scale(1 1.2)">Vehicle</text>
<circle cx="229.10" cy="155.10" r="1.35" fill="#e3241d"/>
<text font-size="4.3" text-anchor="start" font-weight="normal" fill="#2a2a2a" stroke="#2a2a2a" stroke-width="0.1" transform="translate(232.50 156.60) scale(1 1.2)">GDF15</text>
<line x1="237.7" y1="160.1" x2="237.7" y2="161.2" stroke="#444" stroke-width="0.5"/>
<line x1="268.7" y1="160.1" x2="268.7" y2="161.2" stroke="#444" stroke-width="0.5"/>
<text font-size="4.25" text-anchor="middle" font-weight="normal" fill="#2a2a2a" stroke="#2a2a2a" stroke-width="0.1" transform="translate(237.70 166.70) scale(1 1.2)">Dark</text>
<text font-size="4.25" text-anchor="middle" font-weight="normal" fill="#2a2a2a" stroke="#2a2a2a" stroke-width="0.1" transform="translate(268.70 166.70) scale(1 1.2)">Light</text>
<text font-size="8.3" text-anchor="start" font-weight="bold" fill="#000" stroke="#000" stroke-width="0.1" transform="translate(-0.50 185.00)">g</text>
<line x1="20.25" y1="183.2" x2="20.25" y2="243.6" stroke="#444" stroke-width="0.5"/>
<line x1="19.05" y1="243.4" x2="20.25" y2="243.4" stroke="#444" stroke-width="0.5"/>
<text font-size="3.7" text-anchor="end" font-weight="normal" fill="#2a2a2a" stroke="#2a2a2a" stroke-width="0.1" transform="translate(17.35 244.73) scale(1 1.2)">0</text>
<line x1="19.05" y1="231.4" x2="20.25" y2="231.4" stroke="#444" stroke-width="0.5"/>
<text font-size="3.7" text-anchor="end" font-weight="normal" fill="#2a2a2a" stroke="#2a2a2a" stroke-width="0.1" transform="translate(17.35 232.73) scale(1 1.2)">5</text>
<line x1="19.05" y1="219.4" x2="20.25" y2="219.4" stroke="#444" stroke-width="0.5"/>
<text font-size="3.7" text-anchor="end" font-weight="normal" fill="#2a2a2a" stroke="#2a2a2a" stroke-width="0.1" transform="translate(17.35 220.73) scale(1 1.2)">10</text>
<line x1="19.05" y1="207.4" x2="20.25" y2="207.4" stroke="#444" stroke-width="0.5"/>
<text font-size="3.7" text-anchor="end" font-weight="normal" fill="#2a2a2a" stroke="#2a2a2a" stroke-width="0.1" transform="translate(17.35 208.73) scale(1 1.2)">15</text>
<line x1="19.05" y1="195.4" x2="20.25" y2="195.4" stroke="#444" stroke-width="0.5"/>
<text font-size="3.7" text-anchor="end" font-weight="normal" fill="#2a2a2a" stroke="#2a2a2a" stroke-width="0.1" transform="translate(17.35 196.73) scale(1 1.2)">20</text>
<line x1="19.05" y1="183.4" x2="20.25" y2="183.4" stroke="#444" stroke-width="0.5"/>
<text font-size="3.7" text-anchor="end" font-weight="normal" fill="#2a2a2a" stroke="#2a2a2a" stroke-width="0.1" transform="translate(17.35 184.73) scale(1 1.2)">25</text>
<text font-size="4.05" text-anchor="middle" font-weight="normal" fill="#2a2a2a" stroke="#2a2a2a" stroke-width="0.1" transform="translate(7.05 213.70) rotate(-90) scale(1 1.2)">Daily food intake (g)</text>
<line x1="20.25" y1="243.6" x2="81.3" y2="243.6" stroke="#444" stroke-width="0.5"/>
<line x1="20.3" y1="243.6" x2="20.3" y2="244.8" stroke="#444" stroke-width="0.5"/>
<text font-size="3.9" text-anchor="middle" font-weight="normal" fill="#2a2a2a" stroke="#2a2a2a" stroke-width="0.1" transform="translate(20.30 250.50) scale(1 1.2)">0</text>
<line x1="26.4" y1="243.6" x2="26.4" y2="244.8" stroke="#444" stroke-width="0.5"/>
<text font-size="3.9" text-anchor="middle" font-weight="normal" fill="#2a2a2a" stroke="#2a2a2a" stroke-width="0.1" transform="translate(26.40 250.50) scale(1 1.2)">1</text>
<line x1="32.5" y1="243.6" x2="32.5" y2="244.8" stroke="#444" stroke-width="0.5"/>
<text font-size="3.9" text-anchor="middle" font-weight="normal" fill="#2a2a2a" stroke="#2a2a2a" stroke-width="0.1" transform="translate(32.50 250.50) scale(1 1.2)">2</text>
<line x1="44.7" y1="243.6" x2="44.7" y2="244.8" stroke="#444" stroke-width="0.5"/>
<text font-size="3.9" text-anchor="middle" font-weight="normal" fill="#2a2a2a" stroke="#2a2a2a" stroke-width="0.1" transform="translate(44.70 250.50) scale(1 1.2)">4</text>
<line x1="56.89999999999999" y1="243.6" x2="56.89999999999999" y2="244.8" stroke="#444" stroke-width="0.5"/>
<text font-size="3.9" text-anchor="middle" font-weight="normal" fill="#2a2a2a" stroke="#2a2a2a" stroke-width="0.1" transform="translate(56.90 250.50) scale(1 1.2)">6</text>
<line x1="69.1" y1="243.6" x2="69.1" y2="244.8" stroke="#444" stroke-width="0.5"/>
<text font-size="3.9" text-anchor="middle" font-weight="normal" fill="#2a2a2a" stroke="#2a2a2a" stroke-width="0.1" transform="translate(69.10 250.50) scale(1 1.2)">8</text>
<line x1="81.3" y1="243.6" x2="81.3" y2="244.8" stroke="#444" stroke-width="0.5"/>
<text font-size="3.9" text-anchor="middle" font-weight="normal" fill="#2a2a2a" stroke="#2a2a2a" stroke-width="0.1" transform="translate(81.30 250.50) scale(1 1.2)">10</text>
<text font-size="4.3" text-anchor="middle" font-weight="normal" fill="#2a2a2a" stroke="#2a2a2a" stroke-width="0.1" transform="translate(50.50 256.60) scale(1 1.2)">Time (d)</text>
<line x1="20.3" y1="192.1" x2="20.3" y2="196.1" stroke="#e5484b" stroke-width="0.6"/>
<line x1="19.3" y1="192.1" x2="21.3" y2="192.1" stroke="#e5484b" stroke-width="0.6"/>
<line x1="19.3" y1="196.1" x2="21.3" y2="196.1" stroke="#e5484b" stroke-width="0.6"/>
<line x1="26.4" y1="206.1" x2="26.4" y2="210.1" stroke="#e5484b" stroke-width="0.6"/>
<line x1="25.4" y1="206.1" x2="27.4" y2="206.1" stroke="#e5484b" stroke-width="0.6"/>
<line x1="25.4" y1="210.1" x2="27.4" y2="210.1" stroke="#e5484b" stroke-width="0.6"/>
<line x1="32.5" y1="208.5" x2="32.5" y2="212.5" stroke="#e5484b" stroke-width="0.6"/>
<line x1="31.5" y1="208.5" x2="33.5" y2="208.5" stroke="#e5484b" stroke-width="0.6"/>
<line x1="31.5" y1="212.5" x2="33.5" y2="212.5" stroke="#e5484b" stroke-width="0.6"/>
<line x1="38.599999999999994" y1="218.9" x2="38.599999999999994" y2="222.9" stroke="#e5484b" stroke-width="0.6"/>
<line x1="37.599999999999994" y1="218.9" x2="39.599999999999994" y2="218.9" stroke="#e5484b" stroke-width="0.6"/>
<line x1="37.599999999999994" y1="222.9" x2="39.599999999999994" y2="222.9" stroke="#e5484b" stroke-width="0.6"/>
<line x1="44.7" y1="219.2" x2="44.7" y2="223.2" stroke="#e5484b" stroke-width="0.6"/>
<line x1="43.7" y1="219.2" x2="45.7" y2="219.2" stroke="#e5484b" stroke-width="0.6"/>
<line x1="43.7" y1="223.2" x2="45.7" y2="223.2" stroke="#e5484b" stroke-width="0.6"/>
<line x1="50.8" y1="220.0" x2="50.8" y2="224.0" stroke="#e5484b" stroke-width="0.6"/>
<line x1="49.8" y1="220.0" x2="51.8" y2="220.0" stroke="#e5484b" stroke-width="0.6"/>
<line x1="49.8" y1="224.0" x2="51.8" y2="224.0" stroke="#e5484b" stroke-width="0.6"/>
<line x1="56.89999999999999" y1="220.8" x2="56.89999999999999" y2="224.8" stroke="#e5484b" stroke-width="0.6"/>
<line x1="55.89999999999999" y1="220.8" x2="57.89999999999999" y2="220.8" stroke="#e5484b" stroke-width="0.6"/>
<line x1="55.89999999999999" y1="224.8" x2="57.89999999999999" y2="224.8" stroke="#e5484b" stroke-width="0.6"/>
<line x1="63.0" y1="222.4" x2="63.0" y2="226.4" stroke="#e5484b" stroke-width="0.6"/>
<line x1="62.0" y1="222.4" x2="64.0" y2="222.4" stroke="#e5484b" stroke-width="0.6"/>
<line x1="62.0" y1="226.4" x2="64.0" y2="226.4" stroke="#e5484b" stroke-width="0.6"/>
<line x1="69.1" y1="221.2" x2="69.1" y2="225.2" stroke="#e5484b" stroke-width="0.6"/>
<line x1="68.1" y1="221.2" x2="70.1" y2="221.2" stroke="#e5484b" stroke-width="0.6"/>
<line x1="68.1" y1="225.2" x2="70.1" y2="225.2" stroke="#e5484b" stroke-width="0.6"/>
<line x1="75.2" y1="215.4" x2="75.2" y2="219.4" stroke="#e5484b" stroke-width="0.6"/>
<line x1="74.2" y1="215.4" x2="76.2" y2="215.4" stroke="#e5484b" stroke-width="0.6"/>
<line x1="74.2" y1="219.4" x2="76.2" y2="219.4" stroke="#e5484b" stroke-width="0.6"/>
<line x1="20.3" y1="198.0" x2="20.3" y2="202.0" stroke="#e5484b" stroke-width="0.6"/>
<line x1="19.3" y1="198.0" x2="21.3" y2="198.0" stroke="#e5484b" stroke-width="0.6"/>
<line x1="19.3" y1="202.0" x2="21.3" y2="202.0" stroke="#e5484b" stroke-width="0.6"/>
<line x1="26.4" y1="218.4" x2="26.4" y2="222.4" stroke="#e5484b" stroke-width="0.6"/>
<line x1="25.4" y1="218.4" x2="27.4" y2="218.4" stroke="#e5484b" stroke-width="0.6"/>
<line x1="25.4" y1="222.4" x2="27.4" y2="222.4" stroke="#e5484b" stroke-width="0.6"/>
<line x1="32.5" y1="234.0" x2="32.5" y2="238.0" stroke="#e5484b" stroke-width="0.6"/>
<line x1="31.5" y1="234.0" x2="33.5" y2="234.0" stroke="#e5484b" stroke-width="0.6"/>
<line x1="31.5" y1="238.0" x2="33.5" y2="238.0" stroke="#e5484b" stroke-width="0.6"/>
<line x1="38.599999999999994" y1="232.8" x2="38.599999999999994" y2="236.8" stroke="#e5484b" stroke-width="0.6"/>
<line x1="37.599999999999994" y1="232.8" x2="39.599999999999994" y2="232.8" stroke="#e5484b" stroke-width="0.6"/>
<line x1="37.599999999999994" y1="236.8" x2="39.599999999999994" y2="236.8" stroke="#e5484b" stroke-width="0.6"/>
<line x1="44.7" y1="230.5" x2="44.7" y2="234.5" stroke="#e5484b" stroke-width="0.6"/>
<line x1="43.7" y1="230.5" x2="45.7" y2="230.5" stroke="#e5484b" stroke-width="0.6"/>
<line x1="43.7" y1="234.5" x2="45.7" y2="234.5" stroke="#e5484b" stroke-width="0.6"/>
<line x1="50.8" y1="229.3" x2="50.8" y2="233.3" stroke="#e5484b" stroke-width="0.6"/>
<line x1="49.8" y1="229.3" x2="51.8" y2="229.3" stroke="#e5484b" stroke-width="0.6"/>
<line x1="49.8" y1="233.3" x2="51.8" y2="233.3" stroke="#e5484b" stroke-width="0.6"/>
<line x1="56.89999999999999" y1="230.5" x2="56.89999999999999" y2="234.5" stroke="#e5484b" stroke-width="0.6"/>
<line x1="55.89999999999999" y1="230.5" x2="57.89999999999999" y2="230.5" stroke="#e5484b" stroke-width="0.6"/>
<line x1="55.89999999999999" y1="234.5" x2="57.89999999999999" y2="234.5" stroke="#e5484b" stroke-width="0.6"/>
<line x1="63.0" y1="228.2" x2="63.0" y2="232.2" stroke="#e5484b" stroke-width="0.6"/>
<line x1="62.0" y1="228.2" x2="64.0" y2="228.2" stroke="#e5484b" stroke-width="0.6"/>
<line x1="62.0" y1="232.2" x2="64.0" y2="232.2" stroke="#e5484b" stroke-width="0.6"/>
<line x1="69.1" y1="227.0" x2="69.1" y2="231.0" stroke="#e5484b" stroke-width="0.6"/>
<line x1="68.1" y1="227.0" x2="70.1" y2="227.0" stroke="#e5484b" stroke-width="0.6"/>
<line x1="68.1" y1="231.0" x2="70.1" y2="231.0" stroke="#e5484b" stroke-width="0.6"/>
<line x1="75.2" y1="227.0" x2="75.2" y2="231.0" stroke="#e5484b" stroke-width="0.6"/>
<line x1="74.2" y1="227.0" x2="76.2" y2="227.0" stroke="#e5484b" stroke-width="0.6"/>
<line x1="74.2" y1="231.0" x2="76.2" y2="231.0" stroke="#e5484b" stroke-width="0.6"/>
<line x1="26.4" y1="195.1" x2="26.4" y2="197.9" stroke="#555" stroke-width="0.5"/>
<line x1="25.5" y1="195.1" x2="27.299999999999997" y2="195.1" stroke="#555" stroke-width="0.55"/>
<line x1="32.5" y1="198.2" x2="32.5" y2="201.0" stroke="#555" stroke-width="0.5"/>
<line x1="31.6" y1="198.2" x2="33.4" y2="198.2" stroke="#555" stroke-width="0.55"/>
<line x1="38.599999999999994" y1="199.29999999999998" x2="38.599999999999994" y2="202.1" stroke="#555" stroke-width="0.5"/>
<line x1="37.699999999999996" y1="199.29999999999998" x2="39.49999999999999" y2="199.29999999999998" stroke="#555" stroke-width="0.55"/>
<line x1="44.7" y1="194.7" x2="44.7" y2="197.5" stroke="#555" stroke-width="0.5"/>
<line x1="43.800000000000004" y1="194.7" x2="45.6" y2="194.7" stroke="#555" stroke-width="0.55"/>
<line x1="50.8" y1="194.0" x2="50.8" y2="196.8" stroke="#555" stroke-width="0.5"/>
<line x1="49.9" y1="194.0" x2="51.699999999999996" y2="194.0" stroke="#555" stroke-width="0.55"/>
<line x1="56.89999999999999" y1="197.7" x2="56.89999999999999" y2="200.5" stroke="#555" stroke-width="0.5"/>
<line x1="55.99999999999999" y1="197.7" x2="57.79999999999999" y2="197.7" stroke="#555" stroke-width="0.55"/>
<line x1="63.0" y1="200.5" x2="63.0" y2="203.3" stroke="#555" stroke-width="0.5"/>
<line x1="62.1" y1="200.5" x2="63.9" y2="200.5" stroke="#555" stroke-width="0.55"/>
<line x1="69.1" y1="195.39999999999998" x2="69.1" y2="198.2" stroke="#555" stroke-width="0.5"/>
<line x1="68.19999999999999" y1="195.39999999999998" x2="70.0" y2="195.39999999999998" stroke="#555" stroke-width="0.55"/>
<line x1="75.2" y1="200.2" x2="75.2" y2="203.0" stroke="#555" stroke-width="0.5"/>
<line x1="74.3" y1="200.2" x2="76.10000000000001" y2="200.2" stroke="#555" stroke-width="0.55"/>
<polyline points="26.40,196.90 32.50,200.00 38.60,201.10 44.70,196.50 50.80,195.80 56.90,199.50 63.00,202.30 69.10,197.20 75.20,202.00" fill="none" stroke="#8a8a8a" stroke-width="0.8" stroke-linejoin="round"/>
<polyline points="26.40,201.80 32.50,208.10 38.60,209.70 44.70,220.90 50.80,222.00 56.90,222.50 63.00,229.00 69.10,226.00 75.20,223.20" fill="none" stroke="#111111" stroke-width="0.8" stroke-linejoin="round"/>
<polyline points="26.40,203.40 32.50,219.70 38.60,236.20 44.70,232.50 50.80,233.20 56.90,231.30 63.00,232.50 69.10,231.30 75.20,230.20" fill="none" stroke="#111111" stroke-width="0.8" stroke-linejoin="round"/>
<polyline points="20.30,194.10 26.40,208.10 32.50,210.50 38.60,220.90 44.70,221.20 50.80,222.00 56.90,222.80 63.00,224.40 69.10,223.20 75.20,217.40" fill="none" stroke="#e5484b" stroke-width="0.8" stroke-linejoin="round"/>
<polyline points="20.30,200.00 26.40,220.40 32.50,236.00 38.60,234.80 44.70,232.50 50.80,231.30 56.90,232.50 63.00,230.20 69.10,229.00 75.20,229.00" fill="none" stroke="#e5484b" stroke-width="0.8" stroke-linejoin="round"/>
<circle cx="26.40" cy="196.90" r="1.4" fill="#7a7a7a"/>
<circle cx="32.50" cy="200.00" r="1.4" fill="#7a7a7a"/>
<circle cx="38.60" cy="201.10" r="1.4" fill="#7a7a7a"/>
<circle cx="44.70" cy="196.50" r="1.4" fill="#7a7a7a"/>
<circle cx="50.80" cy="195.80" r="1.4" fill="#7a7a7a"/>
<circle cx="56.90" cy="199.50" r="1.4" fill="#7a7a7a"/>
<circle cx="63.00" cy="202.30" r="1.4" fill="#7a7a7a"/>
<circle cx="69.10" cy="197.20" r="1.4" fill="#7a7a7a"/>
<circle cx="75.20" cy="202.00" r="1.4" fill="#7a7a7a"/>
<circle cx="20.30" cy="194.10" r="1.45" fill="#e5484b"/>
<circle cx="26.40" cy="208.10" r="1.45" fill="#e5484b"/>
<circle cx="32.50" cy="210.50" r="1.45" fill="#e5484b"/>
<circle cx="38.60" cy="220.90" r="1.45" fill="#e5484b"/>
<circle cx="44.70" cy="221.20" r="1.45" fill="#e5484b"/>
<circle cx="50.80" cy="222.00" r="1.45" fill="#e5484b"/>
<circle cx="56.90" cy="222.80" r="1.45" fill="#e5484b"/>
<circle cx="63.00" cy="224.40" r="1.45" fill="#e5484b"/>
<circle cx="69.10" cy="223.20" r="1.45" fill="#e5484b"/>
<circle cx="75.20" cy="217.40" r="1.45" fill="#e5484b"/>
<rect x="18.90" y="198.60" width="2.8" height="2.8" fill="#e5484b"/>
<rect x="25.00" y="219.00" width="2.8" height="2.8" fill="#e5484b"/>
<rect x="31.10" y="234.60" width="2.8" height="2.8" fill="#e5484b"/>
<rect x="37.20" y="233.40" width="2.8" height="2.8" fill="#e5484b"/>
<rect x="43.30" y="231.10" width="2.8" height="2.8" fill="#e5484b"/>
<rect x="49.40" y="229.90" width="2.8" height="2.8" fill="#e5484b"/>
<rect x="55.50" y="231.10" width="2.8" height="2.8" fill="#e5484b"/>
<rect x="61.60" y="228.80" width="2.8" height="2.8" fill="#e5484b"/>
<rect x="67.70" y="227.60" width="2.8" height="2.8" fill="#e5484b"/>
<rect x="73.80" y="227.60" width="2.8" height="2.8" fill="#e5484b"/>
<circle cx="26.40" cy="201.80" r="1.45" fill="#111111"/>
<circle cx="32.50" cy="208.10" r="1.45" fill="#111111"/>
<circle cx="38.60" cy="209.70" r="1.45" fill="#111111"/>
<circle cx="44.70" cy="220.90" r="1.45" fill="#111111"/>
<circle cx="50.80" cy="222.00" r="1.45" fill="#111111"/>
<circle cx="56.90" cy="222.50" r="1.45" fill="#111111"/>
<circle cx="63.00" cy="229.00" r="1.45" fill="#111111"/>
<circle cx="69.10" cy="226.00" r="1.45" fill="#111111"/>
<circle cx="75.20" cy="223.20" r="1.45" fill="#111111"/>
<rect x="25.05" y="202.05" width="2.7" height="2.7" fill="#111111"/>
<rect x="31.15" y="218.35" width="2.7" height="2.7" fill="#111111"/>
<rect x="37.25" y="234.85" width="2.7" height="2.7" fill="#111111"/>
<rect x="43.35" y="231.15" width="2.7" height="2.7" fill="#111111"/>
<rect x="49.45" y="231.85" width="2.7" height="2.7" fill="#111111"/>
<rect x="55.55" y="229.95" width="2.7" height="2.7" fill="#111111"/>
<rect x="61.65" y="231.15" width="2.7" height="2.7" fill="#111111"/>
<rect x="67.75" y="229.95" width="2.7" height="2.7" fill="#111111"/>
<rect x="73.85" y="228.85" width="2.7" height="2.7" fill="#111111"/>
<line x1="77.0" y1="201.8" x2="78.5" y2="201.8" stroke="#555" stroke-width="0.45"/>
<line x1="78.5" y1="201.8" x2="78.5" y2="218.8" stroke="#555" stroke-width="0.45"/>
<line x1="77.0" y1="218.8" x2="78.5" y2="218.8" stroke="#555" stroke-width="0.45"/>
<text font-size="4.8" text-anchor="middle" font-weight="normal" fill="#444" stroke="#444" stroke-width="0" transform="translate(78.75 211.50) rotate(90)">***</text>
<line x1="83.6" y1="202.5" x2="85.5" y2="202.5" stroke="#555" stroke-width="0.45"/>
<line x1="85.5" y1="202.5" x2="85.5" y2="228.9" stroke="#555" stroke-width="0.45"/>
<line x1="83.6" y1="228.9" x2="85.5" y2="228.9" stroke="#555" stroke-width="0.45"/>
<text font-size="4.8" text-anchor="middle" font-weight="normal" fill="#444" stroke="#444" stroke-width="0" transform="translate(85.85 216.50) rotate(90)">****</text>
<text font-size="8.3" text-anchor="start" font-weight="bold" fill="#000" stroke="#000" stroke-width="0.1" transform="translate(99.50 184.90)">h</text>
<line x1="119.3" y1="183.2" x2="119.3" y2="243.6" stroke="#444" stroke-width="0.5"/>
<line x1="118.1" y1="242.3" x2="119.3" y2="242.3" stroke="#444" stroke-width="0.5"/>
<text font-size="3.95" text-anchor="end" font-weight="normal" fill="#2a2a2a" stroke="#2a2a2a" stroke-width="0.1" transform="translate(116.40 243.72) scale(1 1.2)">500</text>
<line x1="118.1" y1="230.55" x2="119.3" y2="230.55" stroke="#444" stroke-width="0.5"/>
<text font-size="3.95" text-anchor="end" font-weight="normal" fill="#2a2a2a" stroke="#2a2a2a" stroke-width="0.1" transform="translate(116.40 231.97) scale(1 1.2)">525</text>
<line x1="118.1" y1="218.8" x2="119.3" y2="218.8" stroke="#444" stroke-width="0.5"/>
<text font-size="3.95" text-anchor="end" font-weight="normal" fill="#2a2a2a" stroke="#2a2a2a" stroke-width="0.1" transform="translate(116.40 220.22) scale(1 1.2)">550</text>
<line x1="118.1" y1="207.05" x2="119.3" y2="207.05" stroke="#444" stroke-width="0.5"/>
<text font-size="3.95" text-anchor="end" font-weight="normal" fill="#2a2a2a" stroke="#2a2a2a" stroke-width="0.1" transform="translate(116.40 208.47) scale(1 1.2)">575</text>
<line x1="118.1" y1="195.3" x2="119.3" y2="195.3" stroke="#444" stroke-width="0.5"/>
<text font-size="3.95" text-anchor="end" font-weight="normal" fill="#2a2a2a" stroke="#2a2a2a" stroke-width="0.1" transform="translate(116.40 196.72) scale(1 1.2)">600</text>
<line x1="118.1" y1="183.55" x2="119.3" y2="183.55" stroke="#444" stroke-width="0.5"/>
<text font-size="3.95" text-anchor="end" font-weight="normal" fill="#2a2a2a" stroke="#2a2a2a" stroke-width="0.1" transform="translate(116.40 184.97) scale(1 1.2)">625</text>
<text font-size="4.05" text-anchor="middle" font-weight="normal" fill="#2a2a2a" stroke="#2a2a2a" stroke-width="0.1" transform="translate(102.90 213.40) rotate(-90) scale(1 1.2)">Body weight (g)</text>
<line x1="119.3" y1="243.6" x2="181.5" y2="243.6" stroke="#444" stroke-width="0.5"/>
<line x1="119.4" y1="243.6" x2="119.4" y2="244.8" stroke="#444" stroke-width="0.5"/>
<text font-size="3.9" text-anchor="middle" font-weight="normal" fill="#2a2a2a" stroke="#2a2a2a" stroke-width="0.1" transform="translate(119.40 250.50) scale(1 1.2)">0</text>
<line x1="125.4" y1="243.6" x2="125.4" y2="244.8" stroke="#444" stroke-width="0.5"/>
<text font-size="3.9" text-anchor="middle" font-weight="normal" fill="#2a2a2a" stroke="#2a2a2a" stroke-width="0.1" transform="translate(125.40 250.50) scale(1 1.2)">1</text>
<line x1="131.4" y1="243.6" x2="131.4" y2="244.8" stroke="#444" stroke-width="0.5"/>
<text font-size="3.9" text-anchor="middle" font-weight="normal" fill="#2a2a2a" stroke="#2a2a2a" stroke-width="0.1" transform="translate(131.40 250.50) scale(1 1.2)">2</text>
<line x1="143.4" y1="243.6" x2="143.4" y2="244.8" stroke="#444" stroke-width="0.5"/>
<text font-size="3.9" text-anchor="middle" font-weight="normal" fill="#2a2a2a" stroke="#2a2a2a" stroke-width="0.1" transform="translate(143.40 250.50) scale(1 1.2)">4</text>
<line x1="155.4" y1="243.6" x2="155.4" y2="244.8" stroke="#444" stroke-width="0.5"/>
<text font-size="3.9" text-anchor="middle" font-weight="normal" fill="#2a2a2a" stroke="#2a2a2a" stroke-width="0.1" transform="translate(155.40 250.50) scale(1 1.2)">6</text>
<line x1="167.4" y1="243.6" x2="167.4" y2="244.8" stroke="#444" stroke-width="0.5"/>
<text font-size="3.9" text-anchor="middle" font-weight="normal" fill="#2a2a2a" stroke="#2a2a2a" stroke-width="0.1" transform="translate(167.40 250.50) scale(1 1.2)">8</text>
<line x1="179.4" y1="243.6" x2="179.4" y2="244.8" stroke="#444" stroke-width="0.5"/>
<text font-size="3.9" text-anchor="middle" font-weight="normal" fill="#2a2a2a" stroke="#2a2a2a" stroke-width="0.1" transform="translate(179.40 250.50) scale(1 1.2)">10</text>
<text font-size="4.3" text-anchor="middle" font-weight="normal" fill="#2a2a2a" stroke="#2a2a2a" stroke-width="0.1" transform="translate(150.20 256.90) scale(1 1.2)">Time (d)</text>
<line x1="125.4" y1="195.8" x2="125.4" y2="200.8" stroke="#e35a5a" stroke-width="0.6"/>
<line x1="124.4" y1="200.8" x2="126.4" y2="200.8" stroke="#e35a5a" stroke-width="0.6"/>
<line x1="131.4" y1="197.2" x2="131.4" y2="205.2" stroke="#e35a5a" stroke-width="0.6"/>
<line x1="130.4" y1="205.2" x2="132.4" y2="205.2" stroke="#e35a5a" stroke-width="0.6"/>
<line x1="137.4" y1="199.8" x2="137.4" y2="208.8" stroke="#e35a5a" stroke-width="0.6"/>
<line x1="136.4" y1="208.8" x2="138.4" y2="208.8" stroke="#e35a5a" stroke-width="0.6"/>
<line x1="143.4" y1="202.5" x2="143.4" y2="211.5" stroke="#e35a5a" stroke-width="0.6"/>
<line x1="142.4" y1="211.5" x2="144.4" y2="211.5" stroke="#e35a5a" stroke-width="0.6"/>
<line x1="149.4" y1="205.5" x2="149.4" y2="214.5" stroke="#e35a5a" stroke-width="0.6"/>
<line x1="148.4" y1="214.5" x2="150.4" y2="214.5" stroke="#e35a5a" stroke-width="0.6"/>
<line x1="155.4" y1="207.6" x2="155.4" y2="215.6" stroke="#e35a5a" stroke-width="0.6"/>
<line x1="154.4" y1="215.6" x2="156.4" y2="215.6" stroke="#e35a5a" stroke-width="0.6"/>
<line x1="161.4" y1="209.8" x2="161.4" y2="217.8" stroke="#e35a5a" stroke-width="0.6"/>
<line x1="160.4" y1="217.8" x2="162.4" y2="217.8" stroke="#e35a5a" stroke-width="0.6"/>
<line x1="167.4" y1="212.5" x2="167.4" y2="220.5" stroke="#e35a5a" stroke-width="0.6"/>
<line x1="166.4" y1="220.5" x2="168.4" y2="220.5" stroke="#e35a5a" stroke-width="0.6"/>
<line x1="173.4" y1="215.4" x2="173.4" y2="223.4" stroke="#e35a5a" stroke-width="0.6"/>
<line x1="172.4" y1="223.4" x2="174.4" y2="223.4" stroke="#e35a5a" stroke-width="0.6"/>
<line x1="179.4" y1="216.4" x2="179.4" y2="224.4" stroke="#e35a5a" stroke-width="0.6"/>
<line x1="178.4" y1="224.4" x2="180.4" y2="224.4" stroke="#e35a5a" stroke-width="0.6"/>
<line x1="125.4" y1="197.4" x2="125.4" y2="203.4" stroke="#e35a5a" stroke-width="0.6"/>
<line x1="124.4" y1="203.4" x2="126.4" y2="203.4" stroke="#e35a5a" stroke-width="0.6"/>
<line x1="131.4" y1="199.5" x2="131.4" y2="211.0" stroke="#e35a5a" stroke-width="0.6"/>
<line x1="130.4" y1="211.0" x2="132.4" y2="211.0" stroke="#e35a5a" stroke-width="0.6"/>
<line x1="137.4" y1="203.0" x2="137.4" y2="217.0" stroke="#e35a5a" stroke-width="0.6"/>
<line x1="136.4" y1="217.0" x2="138.4" y2="217.0" stroke="#e35a5a" stroke-width="0.6"/>
<line x1="143.4" y1="206.5" x2="143.4" y2="221.5" stroke="#e35a5a" stroke-width="0.6"/>
<line x1="142.4" y1="221.5" x2="144.4" y2="221.5" stroke="#e35a5a" stroke-width="0.6"/>
<line x1="149.4" y1="211.5" x2="149.4" y2="224.5" stroke="#e35a5a" stroke-width="0.6"/>
<line x1="148.4" y1="224.5" x2="150.4" y2="224.5" stroke="#e35a5a" stroke-width="0.6"/>
<line x1="155.4" y1="216.5" x2="155.4" y2="228.0" stroke="#e35a5a" stroke-width="0.6"/>
<line x1="154.4" y1="228.0" x2="156.4" y2="228.0" stroke="#e35a5a" stroke-width="0.6"/>
<line x1="161.4" y1="220.0" x2="161.4" y2="231.0" stroke="#e35a5a" stroke-width="0.6"/>
<line x1="160.4" y1="231.0" x2="162.4" y2="231.0" stroke="#e35a5a" stroke-width="0.6"/>
<line x1="167.4" y1="223.0" x2="167.4" y2="233.5" stroke="#e35a5a" stroke-width="0.6"/>
<line x1="166.4" y1="233.5" x2="168.4" y2="233.5" stroke="#e35a5a" stroke-width="0.6"/>
<line x1="173.4" y1="225.1" x2="173.4" y2="235.79999999999998" stroke="#e35a5a" stroke-width="0.6"/>
<line x1="172.4" y1="235.79999999999998" x2="174.4" y2="235.79999999999998" stroke="#e35a5a" stroke-width="0.6"/>
<line x1="179.4" y1="227.0" x2="179.4" y2="237.7" stroke="#e35a5a" stroke-width="0.6"/>
<line x1="178.4" y1="237.7" x2="180.4" y2="237.7" stroke="#e35a5a" stroke-width="0.6"/>
<line x1="125.4" y1="195.1" x2="125.4" y2="189.6" stroke="#555" stroke-width="0.45"/>
<line x1="124.5" y1="189.6" x2="126.30000000000001" y2="189.6" stroke="#555" stroke-width="0.5"/>
<line x1="131.4" y1="195.1" x2="131.4" y2="189.6" stroke="#555" stroke-width="0.45"/>
<line x1="130.5" y1="189.6" x2="132.3" y2="189.6" stroke="#555" stroke-width="0.5"/>
<line x1="137.4" y1="195.8" x2="137.4" y2="190.3" stroke="#555" stroke-width="0.45"/>
<line x1="136.5" y1="190.3" x2="138.3" y2="190.3" stroke="#555" stroke-width="0.5"/>
<line x1="143.4" y1="195.6" x2="143.4" y2="190.1" stroke="#555" stroke-width="0.45"/>
<line x1="142.5" y1="190.1" x2="144.3" y2="190.1" stroke="#555" stroke-width="0.5"/>
<line x1="149.4" y1="195.8" x2="149.4" y2="190.3" stroke="#555" stroke-width="0.45"/>
<line x1="148.5" y1="190.3" x2="150.3" y2="190.3" stroke="#555" stroke-width="0.5"/>
<line x1="155.4" y1="195.8" x2="155.4" y2="190.3" stroke="#555" stroke-width="0.45"/>
<line x1="154.5" y1="190.3" x2="156.3" y2="190.3" stroke="#555" stroke-width="0.5"/>
<line x1="161.4" y1="194.5" x2="161.4" y2="189.0" stroke="#555" stroke-width="0.45"/>
<line x1="160.5" y1="189.0" x2="162.3" y2="189.0" stroke="#555" stroke-width="0.5"/>
<line x1="167.4" y1="192.2" x2="167.4" y2="186.7" stroke="#555" stroke-width="0.45"/>
<line x1="166.5" y1="186.7" x2="168.3" y2="186.7" stroke="#555" stroke-width="0.5"/>
<line x1="173.4" y1="191.0" x2="173.4" y2="185.5" stroke="#555" stroke-width="0.45"/>
<line x1="172.5" y1="185.5" x2="174.3" y2="185.5" stroke="#555" stroke-width="0.5"/>
<line x1="179.4" y1="190.5" x2="179.4" y2="185.0" stroke="#555" stroke-width="0.45"/>
<line x1="178.5" y1="185.0" x2="180.3" y2="185.0" stroke="#555" stroke-width="0.5"/>
<line x1="125.4" y1="195.1" x2="125.4" y2="187.1" stroke="#111111" stroke-width="0.5"/>
<line x1="124.5" y1="187.1" x2="126.30000000000001" y2="187.1" stroke="#111111" stroke-width="0.5"/>
<line x1="131.4" y1="196.3" x2="131.4" y2="187.5" stroke="#111111" stroke-width="0.5"/>
<line x1="130.5" y1="187.5" x2="132.3" y2="187.5" stroke="#111111" stroke-width="0.5"/>
<line x1="137.4" y1="198.6" x2="137.4" y2="190.6" stroke="#111111" stroke-width="0.5"/>
<line x1="136.5" y1="190.6" x2="138.3" y2="190.6" stroke="#111111" stroke-width="0.5"/>
<line x1="143.4" y1="200.9" x2="143.4" y2="192.9" stroke="#111111" stroke-width="0.5"/>
<line x1="142.5" y1="192.9" x2="144.3" y2="192.9" stroke="#111111" stroke-width="0.5"/>
<line x1="149.4" y1="203.0" x2="149.4" y2="195.0" stroke="#111111" stroke-width="0.5"/>
<line x1="148.5" y1="195.0" x2="150.3" y2="195.0" stroke="#111111" stroke-width="0.5"/>
<line x1="155.4" y1="204.7" x2="155.4" y2="196.0" stroke="#111111" stroke-width="0.5"/>
<line x1="154.5" y1="196.0" x2="156.3" y2="196.0" stroke="#111111" stroke-width="0.5"/>
<line x1="161.4" y1="206.7" x2="161.4" y2="198.89999999999998" stroke="#111111" stroke-width="0.5"/>
<line x1="160.5" y1="198.89999999999998" x2="162.3" y2="198.89999999999998" stroke="#111111" stroke-width="0.5"/>
<line x1="167.4" y1="210.0" x2="167.4" y2="201.8" stroke="#111111" stroke-width="0.5"/>
<line x1="166.5" y1="201.8" x2="168.3" y2="201.8" stroke="#111111" stroke-width="0.5"/>
<line x1="173.4" y1="212.5" x2="173.4" y2="205.3" stroke="#111111" stroke-width="0.5"/>
<line x1="172.5" y1="205.3" x2="174.3" y2="205.3" stroke="#111111" stroke-width="0.5"/>
<line x1="179.4" y1="213.5" x2="179.4" y2="207.3" stroke="#111111" stroke-width="0.5"/>
<line x1="178.5" y1="207.3" x2="180.3" y2="207.3" stroke="#111111" stroke-width="0.5"/>
<polyline points="125.40,195.10 131.40,195.10 137.40,195.80 143.40,195.60 149.40,195.80 155.40,195.80 161.40,194.50 167.40,192.20 173.40,191.00 179.40,190.50" fill="none" stroke="#8a8a8a" stroke-width="0.85" stroke-linejoin="round"/>
<circle cx="125.40" cy="195.10" r="1.45" fill="#8a8a8a"/>
<circle cx="131.40" cy="195.10" r="1.45" fill="#8a8a8a"/>
<circle cx="137.40" cy="195.80" r="1.45" fill="#8a8a8a"/>
<circle cx="143.40" cy="195.60" r="1.45" fill="#8a8a8a"/>
<circle cx="149.40" cy="195.80" r="1.45" fill="#8a8a8a"/>
<circle cx="155.40" cy="195.80" r="1.45" fill="#8a8a8a"/>
<circle cx="161.40" cy="194.50" r="1.45" fill="#8a8a8a"/>
<circle cx="167.40" cy="192.20" r="1.45" fill="#8a8a8a"/>
<circle cx="173.40" cy="191.00" r="1.45" fill="#8a8a8a"/>
<circle cx="179.40" cy="190.50" r="1.45" fill="#8a8a8a"/>
<polyline points="125.40,195.80 131.40,197.20 137.40,199.80 143.40,202.50 149.40,205.50 155.40,207.60 161.40,209.80 167.40,212.50 173.40,215.40 179.40,216.40" fill="none" stroke="#e35a5a" stroke-width="0.85" stroke-linejoin="round"/>
<circle cx="125.40" cy="195.80" r="1.45" fill="#e35a5a"/>
<circle cx="131.40" cy="197.20" r="1.45" fill="#e35a5a"/>
<circle cx="137.40" cy="199.80" r="1.45" fill="#e35a5a"/>
<circle cx="143.40" cy="202.50" r="1.45" fill="#e35a5a"/>
<circle cx="149.40" cy="205.50" r="1.45" fill="#e35a5a"/>
<circle cx="155.40" cy="207.60" r="1.45" fill="#e35a5a"/>
<circle cx="161.40" cy="209.80" r="1.45" fill="#e35a5a"/>
<circle cx="167.40" cy="212.50" r="1.45" fill="#e35a5a"/>
<circle cx="173.40" cy="215.40" r="1.45" fill="#e35a5a"/>
<circle cx="179.40" cy="216.40" r="1.45" fill="#e35a5a"/>
<polyline points="125.40,197.40 131.40,199.50 137.40,203.00 143.40,206.50 149.40,211.50 155.40,216.50 161.40,220.00 167.40,223.00 173.40,225.10 179.40,227.00" fill="none" stroke="#e35a5a" stroke-width="0.85" stroke-linejoin="round"/>
<rect x="124.00" y="196.00" width="2.8" height="2.8" fill="#e35a5a"/>
<rect x="130.00" y="198.10" width="2.8" height="2.8" fill="#e35a5a"/>
<rect x="136.00" y="201.60" width="2.8" height="2.8" fill="#e35a5a"/>
<rect x="142.00" y="205.10" width="2.8" height="2.8" fill="#e35a5a"/>
<rect x="148.00" y="210.10" width="2.8" height="2.8" fill="#e35a5a"/>
<rect x="154.00" y="215.10" width="2.8" height="2.8" fill="#e35a5a"/>
<rect x="160.00" y="218.60" width="2.8" height="2.8" fill="#e35a5a"/>
<rect x="166.00" y="221.60" width="2.8" height="2.8" fill="#e35a5a"/>
<rect x="172.00" y="223.70" width="2.8" height="2.8" fill="#e35a5a"/>
<rect x="178.00" y="225.60" width="2.8" height="2.8" fill="#e35a5a"/>
<polyline points="125.40,195.10 131.40,196.30 137.40,198.60 143.40,200.90 149.40,203.00 155.40,204.70 161.40,206.70 167.40,210.00 173.40,212.50 179.40,213.50" fill="none" stroke="#111111" stroke-width="0.85" stroke-linejoin="round"/>
<circle cx="125.40" cy="195.10" r="1.45" fill="#111111"/>
<circle cx="131.40" cy="196.30" r="1.45" fill="#111111"/>
<circle cx="137.40" cy="198.60" r="1.45" fill="#111111"/>
<circle cx="143.40" cy="200.90" r="1.45" fill="#111111"/>
<circle cx="149.40" cy="203.00" r="1.45" fill="#111111"/>
<circle cx="155.40" cy="204.70" r="1.45" fill="#111111"/>
<circle cx="161.40" cy="206.70" r="1.45" fill="#111111"/>
<circle cx="167.40" cy="210.00" r="1.45" fill="#111111"/>
<circle cx="173.40" cy="212.50" r="1.45" fill="#111111"/>
<circle cx="179.40" cy="213.50" r="1.45" fill="#111111"/>
<polyline points="125.40,196.00 131.40,197.40 137.40,200.50 143.40,204.40 149.40,209.80 155.40,213.70 161.40,216.00 167.40,218.40 173.40,221.50 179.40,223.00" fill="none" stroke="#111111" stroke-width="0.85" stroke-linejoin="round"/>
<rect x="124.00" y="194.60" width="2.8" height="2.8" fill="#111111"/>
<rect x="130.00" y="196.00" width="2.8" height="2.8" fill="#111111"/>
<rect x="136.00" y="199.10" width="2.8" height="2.8" fill="#111111"/>
<rect x="142.00" y="203.00" width="2.8" height="2.8" fill="#111111"/>
<rect x="148.00" y="208.40" width="2.8" height="2.8" fill="#111111"/>
<rect x="154.00" y="212.30" width="2.8" height="2.8" fill="#111111"/>
<rect x="160.00" y="214.60" width="2.8" height="2.8" fill="#111111"/>
<rect x="166.00" y="217.00" width="2.8" height="2.8" fill="#111111"/>
<rect x="172.00" y="220.10" width="2.8" height="2.8" fill="#111111"/>
<rect x="178.00" y="221.60" width="2.8" height="2.8" fill="#111111"/>
<line x1="182.4" y1="192.1" x2="184.7" y2="192.1" stroke="#555" stroke-width="0.45"/>
<line x1="184.7" y1="192.1" x2="184.7" y2="216.0" stroke="#555" stroke-width="0.45"/>
<line x1="182.4" y1="216.0" x2="184.7" y2="216.0" stroke="#555" stroke-width="0.45"/>
<text font-size="4.8" text-anchor="middle" font-weight="normal" fill="#444" stroke="#444" stroke-width="0" transform="translate(184.65 203.90) rotate(90)">***</text>
<line x1="188.7" y1="192.8" x2="191.0" y2="192.8" stroke="#555" stroke-width="0.45"/>
<line x1="191.0" y1="192.8" x2="191.0" y2="228.4" stroke="#555" stroke-width="0.45"/>
<line x1="188.7" y1="228.4" x2="191.0" y2="228.4" stroke="#555" stroke-width="0.45"/>
<text font-size="4.8" text-anchor="middle" font-weight="normal" fill="#444" stroke="#444" stroke-width="0" transform="translate(192.05 210.20) rotate(90)">****</text>
<text font-size="8.3" text-anchor="start" font-weight="bold" fill="#000" stroke="#000" stroke-width="0.1" transform="translate(200.50 184.90)">i</text>
<line x1="223.5" y1="183.4" x2="223.5" y2="242.8" stroke="#444" stroke-width="0.5"/>
<line x1="222.3" y1="243.0" x2="223.5" y2="243.0" stroke="#444" stroke-width="0.5"/>
<text font-size="3.9" text-anchor="end" font-weight="normal" fill="#2a2a2a" stroke="#2a2a2a" stroke-width="0.1" transform="translate(220.60 244.40) scale(1 1.2)">&#8722;60</text>
<line x1="222.3" y1="233.10000000000002" x2="223.5" y2="233.10000000000002" stroke="#444" stroke-width="0.5"/>
<text font-size="3.9" text-anchor="end" font-weight="normal" fill="#2a2a2a" stroke="#2a2a2a" stroke-width="0.1" transform="translate(220.60 234.50) scale(1 1.2)">&#8722;40</text>
<line x1="222.3" y1="223.20000000000002" x2="223.5" y2="223.20000000000002" stroke="#444" stroke-width="0.5"/>
<text font-size="3.9" text-anchor="end" font-weight="normal" fill="#2a2a2a" stroke="#2a2a2a" stroke-width="0.1" transform="translate(220.60 224.60) scale(1 1.2)">&#8722;20</text>
<line x1="222.3" y1="213.3" x2="223.5" y2="213.3" stroke="#444" stroke-width="0.5"/>
<text font-size="3.9" text-anchor="end" font-weight="normal" fill="#2a2a2a" stroke="#2a2a2a" stroke-width="0.1" transform="translate(220.60 214.70) scale(1 1.2)">0</text>
<line x1="222.3" y1="203.4" x2="223.5" y2="203.4" stroke="#444" stroke-width="0.5"/>
<text font-size="3.9" text-anchor="end" font-weight="normal" fill="#2a2a2a" stroke="#2a2a2a" stroke-width="0.1" transform="translate(220.60 204.80) scale(1 1.2)">20</text>
<line x1="222.3" y1="193.5" x2="223.5" y2="193.5" stroke="#444" stroke-width="0.5"/>
<text font-size="3.9" text-anchor="end" font-weight="normal" fill="#2a2a2a" stroke="#2a2a2a" stroke-width="0.1" transform="translate(220.60 194.90) scale(1 1.2)">40</text>
<line x1="222.3" y1="183.60000000000002" x2="223.5" y2="183.60000000000002" stroke="#444" stroke-width="0.5"/>
<text font-size="3.9" text-anchor="end" font-weight="normal" fill="#2a2a2a" stroke="#2a2a2a" stroke-width="0.1" transform="translate(220.60 185.00) scale(1 1.2)">60</text>
<text font-size="4.05" text-anchor="middle" font-weight="normal" fill="#2a2a2a" stroke="#2a2a2a" stroke-width="0.1" transform="translate(208.70 213.40) rotate(-90) scale(1 1.2)">&#916; fat mass (g)</text>
<line x1="223.5" y1="242.8" x2="263.5" y2="242.8" stroke="#444" stroke-width="0.5"/>
<line x1="223.5" y1="213.3" x2="265.0" y2="213.3" stroke="#111" stroke-width="0.7" stroke-dasharray="1.1,0.9"/>
<circle cx="227.60" cy="201.50" r="1.25" fill="#5a5a5a"/>
<circle cx="227.00" cy="203.50" r="1.25" fill="#5a5a5a"/>
<circle cx="228.20" cy="205.00" r="1.25" fill="#5a5a5a"/>
<circle cx="227.40" cy="206.80" r="1.25" fill="#5a5a5a"/>
<circle cx="226.90" cy="209.00" r="1.25" fill="#5a5a5a"/>
<circle cx="228.30" cy="211.00" r="1.25" fill="#5a5a5a"/>
<circle cx="227.50" cy="213.00" r="1.25" fill="#5a5a5a"/>
<circle cx="227.20" cy="215.20" r="1.25" fill="#5a5a5a"/>
<line x1="225.0" y1="210.2" x2="230.2" y2="210.2" stroke="#000" stroke-width="0.8"/>
<line x1="227.6" y1="205.5" x2="227.6" y2="214.5" stroke="#000" stroke-width="0.65"/>
<line x1="225.6" y1="205.5" x2="229.6" y2="205.5" stroke="#000" stroke-width="0.65"/>
<line x1="225.6" y1="214.5" x2="229.6" y2="214.5" stroke="#000" stroke-width="0.65"/>
<rect x="232.55" y="213.95" width="2.5" height="2.5" fill="#e3241d"/>
<rect x="235.65" y="214.35" width="2.5" height="2.5" fill="#e3241d"/>
<rect x="231.85" y="217.65" width="2.5" height="2.5" fill="#e3241d"/>
<rect x="234.95" y="217.65" width="2.5" height="2.5" fill="#e3241d"/>
<rect x="233.15" y="219.50" width="2.5" height="2.5" fill="#e3241d"/>
<rect x="236.25" y="220.75" width="2.5" height="2.5" fill="#e3241d"/>
<rect x="232.55" y="222.55" width="2.5" height="2.5" fill="#e3241d"/>
<rect x="235.65" y="223.85" width="2.5" height="2.5" fill="#e3241d"/>
<rect x="234.05" y="230.15" width="2.5" height="2.5" fill="#e3241d"/>
<line x1="232.70000000000002" y1="220.2" x2="237.9" y2="220.2" stroke="#000" stroke-width="0.8"/>
<line x1="235.3" y1="216.5" x2="235.3" y2="225.0" stroke="#000" stroke-width="0.65"/>
<line x1="233.3" y1="216.5" x2="237.3" y2="216.5" stroke="#000" stroke-width="0.65"/>
<line x1="233.3" y1="225.0" x2="237.3" y2="225.0" stroke="#000" stroke-width="0.65"/>
<circle cx="243.70" cy="212.70" r="1.3" fill="#111111"/>
<circle cx="243.00" cy="214.50" r="1.3" fill="#111111"/>
<circle cx="244.40" cy="216.50" r="1.3" fill="#111111"/>
<circle cx="243.00" cy="218.90" r="1.3" fill="#111111"/>
<circle cx="244.00" cy="220.00" r="1.3" fill="#111111"/>
<circle cx="243.60" cy="222.00" r="1.3" fill="#111111"/>
<line x1="241.1" y1="217.7" x2="246.29999999999998" y2="217.7" stroke="#000" stroke-width="0.8"/>
<line x1="243.7" y1="214.5" x2="243.7" y2="221.0" stroke="#000" stroke-width="0.65"/>
<line x1="241.7" y1="214.5" x2="245.7" y2="214.5" stroke="#000" stroke-width="0.65"/>
<line x1="241.7" y1="221.0" x2="245.7" y2="221.0" stroke="#000" stroke-width="0.65"/>
<rect x="250.05" y="212.95" width="2.5" height="2.5" fill="#e3241d"/>
<rect x="248.75" y="219.25" width="2.5" height="2.5" fill="#e3241d"/>
<rect x="251.55" y="221.25" width="2.5" height="2.5" fill="#e3241d"/>
<rect x="249.75" y="223.25" width="2.5" height="2.5" fill="#e3241d"/>
<rect x="248.55" y="228.25" width="2.5" height="2.5" fill="#e3241d"/>
<rect x="251.35" y="228.25" width="2.5" height="2.5" fill="#e3241d"/>
<rect x="250.05" y="225.75" width="2.5" height="2.5" fill="#e3241d"/>
<line x1="248.70000000000002" y1="223.0" x2="253.9" y2="223.0" stroke="#000" stroke-width="0.8"/>
<line x1="251.3" y1="219.5" x2="251.3" y2="227.0" stroke="#000" stroke-width="0.65"/>
<line x1="249.3" y1="219.5" x2="253.3" y2="219.5" stroke="#000" stroke-width="0.65"/>
<line x1="249.3" y1="227.0" x2="253.3" y2="227.0" stroke="#000" stroke-width="0.65"/>
<rect x="255.95" y="218.55" width="2.5" height="2.5" fill="#111111"/>
<rect x="258.75" y="218.05" width="2.5" height="2.5" fill="#111111"/>
<rect x="257.75" y="221.25" width="2.5" height="2.5" fill="#111111"/>
<rect x="256.95" y="223.75" width="2.5" height="2.5" fill="#111111"/>
<rect x="258.35" y="222.25" width="2.5" height="2.5" fill="#111111"/>
<rect x="258.25" y="234.75" width="2.5" height="2.5" fill="#111111"/>
<line x1="256.5" y1="221.1" x2="261.70000000000005" y2="221.1" stroke="#000" stroke-width="0.8"/>
<line x1="259.1" y1="217.5" x2="259.1" y2="226.5" stroke="#000" stroke-width="0.65"/>
<line x1="257.1" y1="217.5" x2="261.1" y2="217.5" stroke="#000" stroke-width="0.65"/>
<line x1="257.1" y1="226.5" x2="261.1" y2="226.5" stroke="#000" stroke-width="0.65"/>
<line x1="227.1" y1="185.2" x2="259.7" y2="185.2" stroke="#555" stroke-width="0.45"/>
<line x1="227.1" y1="185.2" x2="227.1" y2="186.5" stroke="#555" stroke-width="0.45"/>
<line x1="259.7" y1="185.2" x2="259.7" y2="186.5" stroke="#555" stroke-width="0.45"/>
<text font-size="4.8" text-anchor="middle" font-weight="normal" fill="#444" stroke="#444" stroke-width="0" transform="translate(242.80 186.05)">****</text>
<line x1="227.1" y1="189.2" x2="251.7" y2="189.2" stroke="#555" stroke-width="0.45"/>
<line x1="227.1" y1="189.2" x2="227.1" y2="190.5" stroke="#555" stroke-width="0.45"/>
<line x1="251.7" y1="189.2" x2="251.7" y2="190.5" stroke="#555" stroke-width="0.45"/>
<text font-size="4.8" text-anchor="middle" font-weight="normal" fill="#444" stroke="#444" stroke-width="0" transform="translate(240.40 190.05)">****</text>
<line x1="227.1" y1="193.5" x2="243.6" y2="193.5" stroke="#555" stroke-width="0.45"/>
<line x1="227.1" y1="193.5" x2="227.1" y2="194.8" stroke="#555" stroke-width="0.45"/>
<line x1="243.6" y1="193.5" x2="243.6" y2="194.8" stroke="#555" stroke-width="0.45"/>
<text font-size="4.8" text-anchor="middle" font-weight="normal" fill="#444" stroke="#444" stroke-width="0" transform="translate(235.60 194.45)">***</text>
<line x1="227.1" y1="197.2" x2="235.6" y2="197.2" stroke="#555" stroke-width="0.45"/>
<line x1="227.1" y1="197.2" x2="227.1" y2="198.5" stroke="#555" stroke-width="0.45"/>
<line x1="235.6" y1="197.2" x2="235.6" y2="198.5" stroke="#555" stroke-width="0.45"/>
<text font-size="4.8" text-anchor="middle" font-weight="normal" fill="#444" stroke="#444" stroke-width="0" transform="translate(231.30 198.45)">***</text>
<circle cx="270.40" cy="193.50" r="1.4" fill="#555"/>
<text font-size="4.4" text-anchor="start" font-weight="normal" fill="#2a2a2a" stroke="#2a2a2a" stroke-width="0.1" transform="translate(274.10 195.10) scale(1 1.2)">Vehicle</text>
<rect x="269.10" y="199.00" width="2.6" height="2.6" fill="#e3241d"/>
<text font-size="4.4" text-anchor="start" font-weight="normal" fill="#2a2a2a" stroke="#2a2a2a" stroke-width="0.1" transform="translate(274.10 201.90) scale(1 1.2)">GDF15, 0.8 nmol/kg</text>
<circle cx="270.40" cy="208.60" r="1.4" fill="#111111"/>
<text font-size="4.4" text-anchor="start" font-weight="normal" fill="#2a2a2a" stroke="#2a2a2a" stroke-width="0.1" transform="translate(274.10 208.50) scale(1 1.2)">Vehicle pair-fed</text>
<text font-size="4.4" text-anchor="start" font-weight="normal" fill="#2a2a2a" stroke="#2a2a2a" stroke-width="0.1" transform="translate(274.10 213.30) scale(1 1.2)">to 3.0 nmol/kg</text>
<rect x="269.10" y="217.60" width="2.6" height="2.6" fill="#e3241d"/>
<text font-size="4.4" text-anchor="start" font-weight="normal" fill="#2a2a2a" stroke="#2a2a2a" stroke-width="0.1" transform="translate(274.10 220.50) scale(1 1.2)">GDF15, 4 nmol/kg</text>
<rect x="269.10" y="227.90" width="2.6" height="2.6" fill="#111111"/>
<text font-size="4.4" text-anchor="start" font-weight="normal" fill="#2a2a2a" stroke="#2a2a2a" stroke-width="0.1" transform="translate(274.10 229.10) scale(1 1.2)">Vehicle pair-fed</text>
<text font-size="4.4" text-anchor="start" font-weight="normal" fill="#2a2a2a" stroke="#2a2a2a" stroke-width="0.1" transform="translate(274.10 233.90) scale(1 1.2)">to 4 nmol/kg</text>
</g>
</svg></body></html>
